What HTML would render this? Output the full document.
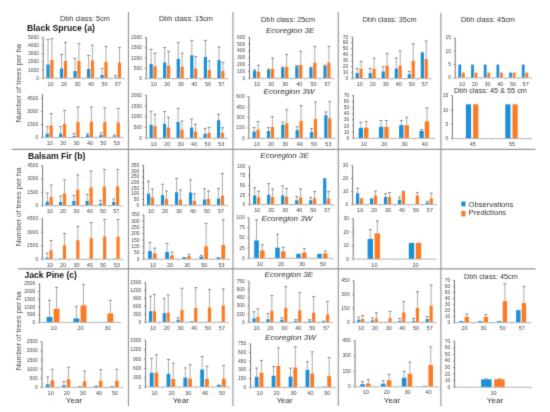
<!DOCTYPE html>
<html><head><meta charset="utf-8"><title>Figure</title>
<style>html,body{margin:0;padding:0;background:#fff;width:550px;height:412px;overflow:hidden}svg{display:block}text{font-family:"Liberation Sans",sans-serif}</style>
</head><body>
<svg width="550" height="412" viewBox="0 0 550 412" font-family="Liberation Sans, sans-serif">
<defs><filter id="soft" filterUnits="userSpaceOnUse" x="0" y="0" width="550" height="412" color-interpolation-filters="sRGB"><feConvolveMatrix order="3" kernelMatrix="1 6 1 6 36 6 1 6 1" divisor="64" edgeMode="duplicate"/></filter></defs>
<g filter="url(#soft)">
<rect x="0" y="0" width="550" height="412" fill="#fff"/>
<line x1="128.45" y1="12" x2="128.45" y2="406" stroke="#959595" stroke-width="1.15"/>
<line x1="232.95" y1="12" x2="232.95" y2="406" stroke="#959595" stroke-width="1.15"/>
<line x1="338.3" y1="12" x2="338.3" y2="406" stroke="#959595" stroke-width="1.15"/>
<line x1="440.9" y1="13" x2="440.9" y2="406" stroke="#959595" stroke-width="1.15"/>
<line x1="12" y1="149.35" x2="535.5" y2="149.35" stroke="#959595" stroke-width="1.15"/>
<line x1="18" y1="268.9" x2="535.5" y2="268.9" stroke="#959595" stroke-width="1.15"/>
<rect x="46.41" y="64.4" width="3.2" height="13.8" fill="#1b8fd8"/>
<line x1="48.01" y1="64.4" x2="48.01" y2="39.6" stroke="#9c9c9c" stroke-width="0.85"/>
<line x1="46.51" y1="39.6" x2="49.51" y2="39.6" stroke="#6e6e6e" stroke-width="0.8"/>
<rect x="50.31" y="60" width="3.2" height="18.2" fill="#fd7b22"/>
<line x1="51.91" y1="60" x2="51.91" y2="38.6" stroke="#9c9c9c" stroke-width="0.85"/>
<line x1="50.41" y1="38.6" x2="53.41" y2="38.6" stroke="#6e6e6e" stroke-width="0.8"/>
<rect x="59.92" y="68.41" width="3.2" height="9.79" fill="#1b8fd8"/>
<line x1="61.52" y1="68.41" x2="61.52" y2="54.4" stroke="#9c9c9c" stroke-width="0.85"/>
<line x1="60.02" y1="54.4" x2="63.02" y2="54.4" stroke="#6e6e6e" stroke-width="0.8"/>
<rect x="63.83" y="61" width="3.2" height="17.2" fill="#fd7b22"/>
<line x1="65.42" y1="61" x2="65.42" y2="42.6" stroke="#9c9c9c" stroke-width="0.85"/>
<line x1="63.92" y1="42.6" x2="66.92" y2="42.6" stroke="#6e6e6e" stroke-width="0.8"/>
<rect x="73.44" y="71" width="3.2" height="7.2" fill="#1b8fd8"/>
<line x1="75.04" y1="71" x2="75.04" y2="58.4" stroke="#9c9c9c" stroke-width="0.85"/>
<line x1="73.54" y1="58.4" x2="76.54" y2="58.4" stroke="#6e6e6e" stroke-width="0.8"/>
<rect x="77.34" y="61" width="3.2" height="17.2" fill="#fd7b22"/>
<line x1="78.94" y1="61" x2="78.94" y2="43.6" stroke="#9c9c9c" stroke-width="0.85"/>
<line x1="77.44" y1="43.6" x2="80.44" y2="43.6" stroke="#6e6e6e" stroke-width="0.8"/>
<rect x="86.96" y="69" width="3.2" height="9.2" fill="#1b8fd8"/>
<line x1="88.56" y1="69" x2="88.56" y2="55.4" stroke="#9c9c9c" stroke-width="0.85"/>
<line x1="87.06" y1="55.4" x2="90.06" y2="55.4" stroke="#6e6e6e" stroke-width="0.8"/>
<rect x="90.86" y="60.4" width="3.2" height="17.8" fill="#fd7b22"/>
<line x1="92.46" y1="60.4" x2="92.46" y2="45.2" stroke="#9c9c9c" stroke-width="0.85"/>
<line x1="90.96" y1="45.2" x2="93.96" y2="45.2" stroke="#6e6e6e" stroke-width="0.8"/>
<rect x="100.48" y="75" width="3.2" height="3.2" fill="#1b8fd8"/>
<line x1="102.08" y1="75" x2="102.08" y2="68.41" stroke="#9c9c9c" stroke-width="0.85"/>
<line x1="100.58" y1="68.41" x2="103.58" y2="68.41" stroke="#6e6e6e" stroke-width="0.8"/>
<rect x="104.38" y="62" width="3.2" height="16.2" fill="#fd7b22"/>
<line x1="105.97" y1="62" x2="105.97" y2="46.4" stroke="#9c9c9c" stroke-width="0.85"/>
<line x1="104.47" y1="46.4" x2="107.47" y2="46.4" stroke="#6e6e6e" stroke-width="0.8"/>
<rect x="113.99" y="77.5" width="3.2" height="0.7" fill="#1b8fd8"/>
<line x1="115.59" y1="77.5" x2="115.59" y2="75.51" stroke="#9c9c9c" stroke-width="0.85"/>
<line x1="114.09" y1="75.51" x2="117.09" y2="75.51" stroke="#6e6e6e" stroke-width="0.8"/>
<rect x="117.89" y="62.6" width="3.2" height="15.6" fill="#fd7b22"/>
<line x1="119.49" y1="62.6" x2="119.49" y2="47.6" stroke="#9c9c9c" stroke-width="0.85"/>
<line x1="117.99" y1="47.6" x2="120.99" y2="47.6" stroke="#6e6e6e" stroke-width="0.8"/>
<line x1="43.2" y1="37.4" x2="43.2" y2="78.2" stroke="#666666" stroke-width="0.9"/>
<line x1="43.2" y1="78.2" x2="124.3" y2="78.2" stroke="#b4b4b4" stroke-width="1"/>
<line x1="41.6" y1="78.2" x2="43.2" y2="78.2" stroke="#666666" stroke-width="0.7"/>
<text x="39" y="79.7" font-size="5.0" text-anchor="end" fill="#444444">0</text>
<line x1="41.6" y1="70.04" x2="43.2" y2="70.04" stroke="#666666" stroke-width="0.7"/>
<text x="39" y="71.54" font-size="5.0" text-anchor="end" fill="#444444">1000</text>
<line x1="41.6" y1="61.88" x2="43.2" y2="61.88" stroke="#666666" stroke-width="0.7"/>
<text x="39" y="63.38" font-size="5.0" text-anchor="end" fill="#444444">2000</text>
<line x1="41.6" y1="53.72" x2="43.2" y2="53.72" stroke="#666666" stroke-width="0.7"/>
<text x="39" y="55.22" font-size="5.0" text-anchor="end" fill="#444444">3000</text>
<line x1="41.6" y1="45.56" x2="43.2" y2="45.56" stroke="#666666" stroke-width="0.7"/>
<text x="39" y="47.06" font-size="5.0" text-anchor="end" fill="#444444">4000</text>
<line x1="41.6" y1="37.4" x2="43.2" y2="37.4" stroke="#666666" stroke-width="0.7"/>
<text x="39" y="38.9" font-size="5.0" text-anchor="end" fill="#444444">5000</text>
<line x1="43.2" y1="78.2" x2="43.2" y2="79.8" stroke="#b4b4b4" stroke-width="0.7"/>
<line x1="56.72" y1="78.2" x2="56.72" y2="79.8" stroke="#b4b4b4" stroke-width="0.7"/>
<line x1="70.23" y1="78.2" x2="70.23" y2="79.8" stroke="#b4b4b4" stroke-width="0.7"/>
<line x1="83.75" y1="78.2" x2="83.75" y2="79.8" stroke="#b4b4b4" stroke-width="0.7"/>
<line x1="97.27" y1="78.2" x2="97.27" y2="79.8" stroke="#b4b4b4" stroke-width="0.7"/>
<line x1="110.78" y1="78.2" x2="110.78" y2="79.8" stroke="#b4b4b4" stroke-width="0.7"/>
<line x1="124.3" y1="78.2" x2="124.3" y2="79.8" stroke="#b4b4b4" stroke-width="0.7"/>
<text x="50.56" y="85.88" font-size="5.5" text-anchor="middle" fill="#444444">10</text>
<text x="64.08" y="85.88" font-size="5.5" text-anchor="middle" fill="#444444">20</text>
<text x="77.59" y="85.88" font-size="5.5" text-anchor="middle" fill="#444444">30</text>
<text x="91.11" y="85.88" font-size="5.5" text-anchor="middle" fill="#444444">40</text>
<text x="104.62" y="85.88" font-size="5.5" text-anchor="middle" fill="#444444">50</text>
<text x="118.14" y="85.88" font-size="5.5" text-anchor="middle" fill="#444444">57</text>
<rect x="45.66" y="133.6" width="3.2" height="3.8" fill="#1b8fd8"/>
<line x1="47.26" y1="133.6" x2="47.26" y2="126.4" stroke="#9c9c9c" stroke-width="0.85"/>
<line x1="45.76" y1="126.4" x2="48.76" y2="126.4" stroke="#6e6e6e" stroke-width="0.8"/>
<rect x="49.56" y="125.6" width="3.2" height="11.8" fill="#fd7b22"/>
<line x1="51.16" y1="125.6" x2="51.16" y2="113.6" stroke="#9c9c9c" stroke-width="0.85"/>
<line x1="49.66" y1="113.6" x2="52.66" y2="113.6" stroke="#6e6e6e" stroke-width="0.8"/>
<rect x="59.07" y="133.58" width="3.2" height="3.82" fill="#1b8fd8"/>
<line x1="60.67" y1="133.58" x2="60.67" y2="126.4" stroke="#9c9c9c" stroke-width="0.85"/>
<line x1="59.17" y1="126.4" x2="62.17" y2="126.4" stroke="#6e6e6e" stroke-width="0.8"/>
<rect x="62.98" y="124" width="3.2" height="13.4" fill="#fd7b22"/>
<line x1="64.58" y1="124" x2="64.58" y2="110.41" stroke="#9c9c9c" stroke-width="0.85"/>
<line x1="63.08" y1="110.41" x2="66.08" y2="110.41" stroke="#6e6e6e" stroke-width="0.8"/>
<rect x="72.49" y="136.01" width="3.2" height="1.39" fill="#1b8fd8"/>
<line x1="74.09" y1="136.01" x2="74.09" y2="133.6" stroke="#9c9c9c" stroke-width="0.85"/>
<line x1="72.59" y1="133.6" x2="75.59" y2="133.6" stroke="#6e6e6e" stroke-width="0.8"/>
<rect x="76.39" y="122" width="3.2" height="15.4" fill="#fd7b22"/>
<line x1="77.99" y1="122" x2="77.99" y2="107" stroke="#9c9c9c" stroke-width="0.85"/>
<line x1="76.49" y1="107" x2="79.49" y2="107" stroke="#6e6e6e" stroke-width="0.8"/>
<rect x="85.91" y="135" width="3.2" height="2.4" fill="#1b8fd8"/>
<line x1="87.51" y1="135" x2="87.51" y2="133.58" stroke="#9c9c9c" stroke-width="0.85"/>
<line x1="86.01" y1="133.58" x2="89.01" y2="133.58" stroke="#6e6e6e" stroke-width="0.8"/>
<rect x="89.81" y="121.6" width="3.2" height="15.8" fill="#fd7b22"/>
<line x1="91.41" y1="121.6" x2="91.41" y2="107" stroke="#9c9c9c" stroke-width="0.85"/>
<line x1="89.91" y1="107" x2="92.91" y2="107" stroke="#6e6e6e" stroke-width="0.8"/>
<rect x="99.33" y="135" width="3.2" height="2.4" fill="#1b8fd8"/>
<line x1="100.92" y1="135" x2="100.92" y2="133" stroke="#9c9c9c" stroke-width="0.85"/>
<line x1="99.42" y1="133" x2="102.42" y2="133" stroke="#6e6e6e" stroke-width="0.8"/>
<rect x="103.22" y="122" width="3.2" height="15.4" fill="#fd7b22"/>
<line x1="104.82" y1="122" x2="104.82" y2="108" stroke="#9c9c9c" stroke-width="0.85"/>
<line x1="103.32" y1="108" x2="106.32" y2="108" stroke="#6e6e6e" stroke-width="0.8"/>
<rect x="112.74" y="136.4" width="3.2" height="1" fill="#1b8fd8"/>
<line x1="114.34" y1="136.4" x2="114.34" y2="135" stroke="#9c9c9c" stroke-width="0.85"/>
<line x1="112.84" y1="135" x2="115.84" y2="135" stroke="#6e6e6e" stroke-width="0.8"/>
<rect x="116.64" y="122.4" width="3.2" height="15" fill="#fd7b22"/>
<line x1="118.24" y1="122.4" x2="118.24" y2="108.4" stroke="#9c9c9c" stroke-width="0.85"/>
<line x1="116.74" y1="108.4" x2="119.74" y2="108.4" stroke="#6e6e6e" stroke-width="0.8"/>
<line x1="42.5" y1="94" x2="42.5" y2="137.4" stroke="#666666" stroke-width="0.9"/>
<line x1="42.5" y1="137.4" x2="123" y2="137.4" stroke="#b4b4b4" stroke-width="1"/>
<line x1="40.9" y1="137.4" x2="42.5" y2="137.4" stroke="#666666" stroke-width="0.7"/>
<text x="38.3" y="138.9" font-size="5.0" text-anchor="end" fill="#444444">0</text>
<line x1="40.9" y1="124.38" x2="42.5" y2="124.38" stroke="#666666" stroke-width="0.7"/>
<text x="38.3" y="125.88" font-size="5.0" text-anchor="end" fill="#444444">1500</text>
<line x1="40.9" y1="111.36" x2="42.5" y2="111.36" stroke="#666666" stroke-width="0.7"/>
<text x="38.3" y="112.86" font-size="5.0" text-anchor="end" fill="#444444">3000</text>
<line x1="40.9" y1="98.34" x2="42.5" y2="98.34" stroke="#666666" stroke-width="0.7"/>
<text x="38.3" y="99.84" font-size="5.0" text-anchor="end" fill="#444444">4500</text>
<line x1="42.5" y1="137.4" x2="42.5" y2="139" stroke="#b4b4b4" stroke-width="0.7"/>
<line x1="55.92" y1="137.4" x2="55.92" y2="139" stroke="#b4b4b4" stroke-width="0.7"/>
<line x1="69.33" y1="137.4" x2="69.33" y2="139" stroke="#b4b4b4" stroke-width="0.7"/>
<line x1="82.75" y1="137.4" x2="82.75" y2="139" stroke="#b4b4b4" stroke-width="0.7"/>
<line x1="96.17" y1="137.4" x2="96.17" y2="139" stroke="#b4b4b4" stroke-width="0.7"/>
<line x1="109.58" y1="137.4" x2="109.58" y2="139" stroke="#b4b4b4" stroke-width="0.7"/>
<line x1="123" y1="137.4" x2="123" y2="139" stroke="#b4b4b4" stroke-width="0.7"/>
<text x="49.81" y="145.08" font-size="5.5" text-anchor="middle" fill="#444444">10</text>
<text x="63.23" y="145.08" font-size="5.5" text-anchor="middle" fill="#444444">20</text>
<text x="76.64" y="145.08" font-size="5.5" text-anchor="middle" fill="#444444">30</text>
<text x="90.06" y="145.08" font-size="5.5" text-anchor="middle" fill="#444444">40</text>
<text x="103.47" y="145.08" font-size="5.5" text-anchor="middle" fill="#444444">50</text>
<text x="116.89" y="145.08" font-size="5.5" text-anchor="middle" fill="#444444">53</text>
<rect x="149.53" y="63.91" width="3.2" height="14.69" fill="#1b8fd8"/>
<line x1="151.13" y1="63.91" x2="151.13" y2="49.4" stroke="#9c9c9c" stroke-width="0.85"/>
<line x1="149.63" y1="49.4" x2="152.63" y2="49.4" stroke="#6e6e6e" stroke-width="0.8"/>
<rect x="153.43" y="66.21" width="3.2" height="12.39" fill="#fd7b22"/>
<line x1="155.03" y1="66.21" x2="155.03" y2="53.2" stroke="#9c9c9c" stroke-width="0.85"/>
<line x1="153.53" y1="53.2" x2="156.53" y2="53.2" stroke="#6e6e6e" stroke-width="0.8"/>
<rect x="163.1" y="62.41" width="3.2" height="16.19" fill="#1b8fd8"/>
<line x1="164.7" y1="62.41" x2="164.7" y2="47.51" stroke="#9c9c9c" stroke-width="0.85"/>
<line x1="163.2" y1="47.51" x2="166.2" y2="47.51" stroke="#6e6e6e" stroke-width="0.8"/>
<rect x="167" y="65.59" width="3.2" height="13.01" fill="#fd7b22"/>
<line x1="168.6" y1="65.59" x2="168.6" y2="51.31" stroke="#9c9c9c" stroke-width="0.85"/>
<line x1="167.1" y1="51.31" x2="170.1" y2="51.31" stroke="#6e6e6e" stroke-width="0.8"/>
<rect x="176.67" y="58.89" width="3.2" height="19.71" fill="#1b8fd8"/>
<line x1="178.27" y1="58.89" x2="178.27" y2="42.7" stroke="#9c9c9c" stroke-width="0.85"/>
<line x1="176.77" y1="42.7" x2="179.77" y2="42.7" stroke="#6e6e6e" stroke-width="0.8"/>
<rect x="180.57" y="66.8" width="3.2" height="11.8" fill="#fd7b22"/>
<line x1="182.17" y1="66.8" x2="182.17" y2="53.2" stroke="#9c9c9c" stroke-width="0.85"/>
<line x1="180.67" y1="53.2" x2="183.67" y2="53.2" stroke="#6e6e6e" stroke-width="0.8"/>
<rect x="190.23" y="55.3" width="3.2" height="23.3" fill="#1b8fd8"/>
<line x1="191.83" y1="55.3" x2="191.83" y2="40.4" stroke="#9c9c9c" stroke-width="0.85"/>
<line x1="190.33" y1="40.4" x2="193.33" y2="40.4" stroke="#6e6e6e" stroke-width="0.8"/>
<rect x="194.13" y="68.51" width="3.2" height="10.09" fill="#fd7b22"/>
<line x1="195.73" y1="68.51" x2="195.73" y2="56.59" stroke="#9c9c9c" stroke-width="0.85"/>
<line x1="194.23" y1="56.59" x2="197.23" y2="56.59" stroke="#6e6e6e" stroke-width="0.8"/>
<rect x="203.8" y="57" width="3.2" height="21.6" fill="#1b8fd8"/>
<line x1="205.4" y1="57" x2="205.4" y2="40.4" stroke="#9c9c9c" stroke-width="0.85"/>
<line x1="203.9" y1="40.4" x2="206.9" y2="40.4" stroke="#6e6e6e" stroke-width="0.8"/>
<rect x="207.7" y="70.01" width="3.2" height="8.59" fill="#fd7b22"/>
<line x1="209.3" y1="70.01" x2="209.3" y2="60.8" stroke="#9c9c9c" stroke-width="0.85"/>
<line x1="207.8" y1="60.8" x2="210.8" y2="60.8" stroke="#6e6e6e" stroke-width="0.8"/>
<rect x="217.37" y="60.1" width="3.2" height="18.49" fill="#1b8fd8"/>
<line x1="218.97" y1="60.1" x2="218.97" y2="47.1" stroke="#9c9c9c" stroke-width="0.85"/>
<line x1="217.47" y1="47.1" x2="220.47" y2="47.1" stroke="#6e6e6e" stroke-width="0.8"/>
<rect x="221.27" y="71" width="3.2" height="7.6" fill="#fd7b22"/>
<line x1="222.87" y1="71" x2="222.87" y2="62.41" stroke="#9c9c9c" stroke-width="0.85"/>
<line x1="221.37" y1="62.41" x2="224.37" y2="62.41" stroke="#6e6e6e" stroke-width="0.8"/>
<line x1="146.3" y1="37.5" x2="146.3" y2="78.6" stroke="#666666" stroke-width="0.9"/>
<line x1="146.3" y1="78.6" x2="227.7" y2="78.6" stroke="#b4b4b4" stroke-width="1"/>
<line x1="144.7" y1="78.6" x2="146.3" y2="78.6" stroke="#666666" stroke-width="0.7"/>
<text x="142.1" y="80.1" font-size="5.0" text-anchor="end" fill="#444444">0</text>
<line x1="144.7" y1="68.32" x2="146.3" y2="68.32" stroke="#666666" stroke-width="0.7"/>
<text x="142.1" y="69.82" font-size="5.0" text-anchor="end" fill="#444444">500</text>
<line x1="144.7" y1="58.05" x2="146.3" y2="58.05" stroke="#666666" stroke-width="0.7"/>
<text x="142.1" y="59.55" font-size="5.0" text-anchor="end" fill="#444444">1000</text>
<line x1="144.7" y1="47.77" x2="146.3" y2="47.77" stroke="#666666" stroke-width="0.7"/>
<text x="142.1" y="49.27" font-size="5.0" text-anchor="end" fill="#444444">1500</text>
<line x1="144.7" y1="37.5" x2="146.3" y2="37.5" stroke="#666666" stroke-width="0.7"/>
<text x="142.1" y="39" font-size="5.0" text-anchor="end" fill="#444444">2000</text>
<line x1="146.3" y1="78.6" x2="146.3" y2="80.2" stroke="#b4b4b4" stroke-width="0.7"/>
<line x1="159.87" y1="78.6" x2="159.87" y2="80.2" stroke="#b4b4b4" stroke-width="0.7"/>
<line x1="173.43" y1="78.6" x2="173.43" y2="80.2" stroke="#b4b4b4" stroke-width="0.7"/>
<line x1="187" y1="78.6" x2="187" y2="80.2" stroke="#b4b4b4" stroke-width="0.7"/>
<line x1="200.57" y1="78.6" x2="200.57" y2="80.2" stroke="#b4b4b4" stroke-width="0.7"/>
<line x1="214.13" y1="78.6" x2="214.13" y2="80.2" stroke="#b4b4b4" stroke-width="0.7"/>
<line x1="227.7" y1="78.6" x2="227.7" y2="80.2" stroke="#b4b4b4" stroke-width="0.7"/>
<text x="153.68" y="86.28" font-size="5.5" text-anchor="middle" fill="#444444">10</text>
<text x="167.25" y="86.28" font-size="5.5" text-anchor="middle" fill="#444444">20</text>
<text x="180.82" y="86.28" font-size="5.5" text-anchor="middle" fill="#444444">30</text>
<text x="194.38" y="86.28" font-size="5.5" text-anchor="middle" fill="#444444">40</text>
<text x="207.95" y="86.28" font-size="5.5" text-anchor="middle" fill="#444444">50</text>
<text x="221.52" y="86.28" font-size="5.5" text-anchor="middle" fill="#444444">57</text>
<rect x="149.5" y="124.79" width="3.2" height="13.41" fill="#1b8fd8"/>
<line x1="151.1" y1="124.79" x2="151.1" y2="111.3" stroke="#9c9c9c" stroke-width="0.85"/>
<line x1="149.6" y1="111.3" x2="152.6" y2="111.3" stroke="#6e6e6e" stroke-width="0.8"/>
<rect x="153.4" y="126.21" width="3.2" height="11.99" fill="#fd7b22"/>
<line x1="155" y1="126.21" x2="155" y2="114.3" stroke="#9c9c9c" stroke-width="0.85"/>
<line x1="153.5" y1="114.3" x2="156.5" y2="114.3" stroke="#6e6e6e" stroke-width="0.8"/>
<rect x="163" y="123.89" width="3.2" height="14.31" fill="#1b8fd8"/>
<line x1="164.6" y1="123.89" x2="164.6" y2="111.49" stroke="#9c9c9c" stroke-width="0.85"/>
<line x1="163.1" y1="111.49" x2="166.1" y2="111.49" stroke="#6e6e6e" stroke-width="0.8"/>
<rect x="166.9" y="127.5" width="3.2" height="10.7" fill="#fd7b22"/>
<line x1="168.5" y1="127.5" x2="168.5" y2="117.2" stroke="#9c9c9c" stroke-width="0.85"/>
<line x1="167" y1="117.2" x2="170" y2="117.2" stroke="#6e6e6e" stroke-width="0.8"/>
<rect x="176.5" y="122.01" width="3.2" height="16.19" fill="#1b8fd8"/>
<line x1="178.1" y1="122.01" x2="178.1" y2="108.41" stroke="#9c9c9c" stroke-width="0.85"/>
<line x1="176.6" y1="108.41" x2="179.6" y2="108.41" stroke="#6e6e6e" stroke-width="0.8"/>
<rect x="180.4" y="129.6" width="3.2" height="8.6" fill="#fd7b22"/>
<line x1="182" y1="129.6" x2="182" y2="121" stroke="#9c9c9c" stroke-width="0.85"/>
<line x1="180.5" y1="121" x2="183.5" y2="121" stroke="#6e6e6e" stroke-width="0.8"/>
<rect x="190" y="127.5" width="3.2" height="10.7" fill="#1b8fd8"/>
<line x1="191.6" y1="127.5" x2="191.6" y2="119.11" stroke="#9c9c9c" stroke-width="0.85"/>
<line x1="190.1" y1="119.11" x2="193.1" y2="119.11" stroke="#6e6e6e" stroke-width="0.8"/>
<rect x="193.9" y="131.51" width="3.2" height="6.69" fill="#fd7b22"/>
<line x1="195.5" y1="131.51" x2="195.5" y2="124.3" stroke="#9c9c9c" stroke-width="0.85"/>
<line x1="194" y1="124.3" x2="197" y2="124.3" stroke="#6e6e6e" stroke-width="0.8"/>
<rect x="203.5" y="133.8" width="3.2" height="4.4" fill="#1b8fd8"/>
<line x1="205.1" y1="133.8" x2="205.1" y2="128.5" stroke="#9c9c9c" stroke-width="0.85"/>
<line x1="203.6" y1="128.5" x2="206.6" y2="128.5" stroke="#6e6e6e" stroke-width="0.8"/>
<rect x="207.4" y="132.9" width="3.2" height="5.3" fill="#fd7b22"/>
<line x1="209" y1="132.9" x2="209" y2="127.5" stroke="#9c9c9c" stroke-width="0.85"/>
<line x1="207.5" y1="127.5" x2="210.5" y2="127.5" stroke="#6e6e6e" stroke-width="0.8"/>
<rect x="217" y="120.1" width="3.2" height="18.1" fill="#1b8fd8"/>
<line x1="218.6" y1="120.1" x2="218.6" y2="114.2" stroke="#9c9c9c" stroke-width="0.85"/>
<line x1="217.1" y1="114.2" x2="220.1" y2="114.2" stroke="#6e6e6e" stroke-width="0.8"/>
<rect x="220.9" y="132.9" width="3.2" height="5.3" fill="#fd7b22"/>
<line x1="222.5" y1="132.9" x2="222.5" y2="127.69" stroke="#9c9c9c" stroke-width="0.85"/>
<line x1="221" y1="127.69" x2="224" y2="127.69" stroke="#6e6e6e" stroke-width="0.8"/>
<line x1="146.3" y1="95.3" x2="146.3" y2="138.2" stroke="#666666" stroke-width="0.9"/>
<line x1="146.3" y1="138.2" x2="227.3" y2="138.2" stroke="#b4b4b4" stroke-width="1"/>
<line x1="144.7" y1="138.2" x2="146.3" y2="138.2" stroke="#666666" stroke-width="0.7"/>
<text x="142.1" y="139.7" font-size="5.0" text-anchor="end" fill="#444444">0</text>
<line x1="144.7" y1="127.47" x2="146.3" y2="127.47" stroke="#666666" stroke-width="0.7"/>
<text x="142.1" y="128.97" font-size="5.0" text-anchor="end" fill="#444444">500</text>
<line x1="144.7" y1="116.75" x2="146.3" y2="116.75" stroke="#666666" stroke-width="0.7"/>
<text x="142.1" y="118.25" font-size="5.0" text-anchor="end" fill="#444444">1000</text>
<line x1="144.7" y1="106.02" x2="146.3" y2="106.02" stroke="#666666" stroke-width="0.7"/>
<text x="142.1" y="107.52" font-size="5.0" text-anchor="end" fill="#444444">1500</text>
<line x1="144.7" y1="95.3" x2="146.3" y2="95.3" stroke="#666666" stroke-width="0.7"/>
<text x="142.1" y="96.8" font-size="5.0" text-anchor="end" fill="#444444">2000</text>
<line x1="146.3" y1="138.2" x2="146.3" y2="139.8" stroke="#b4b4b4" stroke-width="0.7"/>
<line x1="159.8" y1="138.2" x2="159.8" y2="139.8" stroke="#b4b4b4" stroke-width="0.7"/>
<line x1="173.3" y1="138.2" x2="173.3" y2="139.8" stroke="#b4b4b4" stroke-width="0.7"/>
<line x1="186.8" y1="138.2" x2="186.8" y2="139.8" stroke="#b4b4b4" stroke-width="0.7"/>
<line x1="200.3" y1="138.2" x2="200.3" y2="139.8" stroke="#b4b4b4" stroke-width="0.7"/>
<line x1="213.8" y1="138.2" x2="213.8" y2="139.8" stroke="#b4b4b4" stroke-width="0.7"/>
<line x1="227.3" y1="138.2" x2="227.3" y2="139.8" stroke="#b4b4b4" stroke-width="0.7"/>
<text x="153.65" y="145.88" font-size="5.5" text-anchor="middle" fill="#444444">10</text>
<text x="167.15" y="145.88" font-size="5.5" text-anchor="middle" fill="#444444">20</text>
<text x="180.65" y="145.88" font-size="5.5" text-anchor="middle" fill="#444444">30</text>
<text x="194.15" y="145.88" font-size="5.5" text-anchor="middle" fill="#444444">40</text>
<text x="207.65" y="145.88" font-size="5.5" text-anchor="middle" fill="#444444">50</text>
<text x="221.15" y="145.88" font-size="5.5" text-anchor="middle" fill="#444444">53</text>
<rect x="252.99" y="70.51" width="3.2" height="7.79" fill="#1b8fd8"/>
<line x1="254.59" y1="70.51" x2="254.59" y2="69.76" stroke="#9c9c9c" stroke-width="0.85"/>
<line x1="253.09" y1="69.76" x2="256.09" y2="69.76" stroke="#6e6e6e" stroke-width="0.8"/>
<rect x="256.89" y="71.6" width="3.2" height="6.7" fill="#fd7b22"/>
<line x1="258.49" y1="71.6" x2="258.49" y2="65.32" stroke="#9c9c9c" stroke-width="0.85"/>
<line x1="256.99" y1="65.32" x2="259.99" y2="65.32" stroke="#6e6e6e" stroke-width="0.8"/>
<rect x="267.07" y="69.69" width="3.2" height="8.61" fill="#1b8fd8"/>
<line x1="268.68" y1="69.69" x2="268.68" y2="69.14" stroke="#9c9c9c" stroke-width="0.85"/>
<line x1="267.18" y1="69.14" x2="270.18" y2="69.14" stroke="#6e6e6e" stroke-width="0.8"/>
<rect x="270.98" y="68.8" width="3.2" height="9.5" fill="#fd7b22"/>
<line x1="272.58" y1="68.8" x2="272.58" y2="58.07" stroke="#9c9c9c" stroke-width="0.85"/>
<line x1="271.08" y1="58.07" x2="274.08" y2="58.07" stroke="#6e6e6e" stroke-width="0.8"/>
<rect x="281.16" y="67.57" width="3.2" height="10.73" fill="#1b8fd8"/>
<line x1="282.76" y1="67.57" x2="282.76" y2="67.03" stroke="#9c9c9c" stroke-width="0.85"/>
<line x1="281.26" y1="67.03" x2="284.26" y2="67.03" stroke="#6e6e6e" stroke-width="0.8"/>
<rect x="285.06" y="66.89" width="3.2" height="11.41" fill="#fd7b22"/>
<line x1="286.66" y1="66.89" x2="286.66" y2="54.38" stroke="#9c9c9c" stroke-width="0.85"/>
<line x1="285.16" y1="54.38" x2="288.16" y2="54.38" stroke="#6e6e6e" stroke-width="0.8"/>
<rect x="295.24" y="66.27" width="3.2" height="12.03" fill="#1b8fd8"/>
<line x1="296.84" y1="66.27" x2="296.84" y2="65.73" stroke="#9c9c9c" stroke-width="0.85"/>
<line x1="295.34" y1="65.73" x2="298.34" y2="65.73" stroke="#6e6e6e" stroke-width="0.8"/>
<rect x="299.14" y="64.91" width="3.2" height="13.39" fill="#fd7b22"/>
<line x1="300.74" y1="64.91" x2="300.74" y2="51.38" stroke="#9c9c9c" stroke-width="0.85"/>
<line x1="299.24" y1="51.38" x2="302.24" y2="51.38" stroke="#6e6e6e" stroke-width="0.8"/>
<rect x="309.32" y="67.78" width="3.2" height="10.52" fill="#1b8fd8"/>
<line x1="310.93" y1="67.78" x2="310.93" y2="67.23" stroke="#9c9c9c" stroke-width="0.85"/>
<line x1="309.43" y1="67.23" x2="312.43" y2="67.23" stroke="#6e6e6e" stroke-width="0.8"/>
<rect x="313.23" y="62.52" width="3.2" height="15.78" fill="#fd7b22"/>
<line x1="314.83" y1="62.52" x2="314.83" y2="46.59" stroke="#9c9c9c" stroke-width="0.85"/>
<line x1="313.33" y1="46.59" x2="316.33" y2="46.59" stroke="#6e6e6e" stroke-width="0.8"/>
<rect x="323.41" y="65.86" width="3.2" height="12.44" fill="#1b8fd8"/>
<line x1="325.01" y1="65.86" x2="325.01" y2="65.18" stroke="#9c9c9c" stroke-width="0.85"/>
<line x1="323.51" y1="65.18" x2="326.51" y2="65.18" stroke="#6e6e6e" stroke-width="0.8"/>
<rect x="327.31" y="62.52" width="3.2" height="15.78" fill="#fd7b22"/>
<line x1="328.91" y1="62.52" x2="328.91" y2="46.59" stroke="#9c9c9c" stroke-width="0.85"/>
<line x1="327.41" y1="46.59" x2="330.41" y2="46.59" stroke="#6e6e6e" stroke-width="0.8"/>
<line x1="249.5" y1="37.3" x2="249.5" y2="78.3" stroke="#666666" stroke-width="0.9"/>
<line x1="249.5" y1="78.3" x2="334" y2="78.3" stroke="#b4b4b4" stroke-width="1"/>
<line x1="247.9" y1="78.3" x2="249.5" y2="78.3" stroke="#666666" stroke-width="0.7"/>
<text x="245.3" y="79.8" font-size="5.0" text-anchor="end" fill="#444444">0</text>
<line x1="247.9" y1="71.47" x2="249.5" y2="71.47" stroke="#666666" stroke-width="0.7"/>
<text x="245.3" y="72.97" font-size="5.0" text-anchor="end" fill="#444444">100</text>
<line x1="247.9" y1="64.63" x2="249.5" y2="64.63" stroke="#666666" stroke-width="0.7"/>
<text x="245.3" y="66.13" font-size="5.0" text-anchor="end" fill="#444444">200</text>
<line x1="247.9" y1="57.8" x2="249.5" y2="57.8" stroke="#666666" stroke-width="0.7"/>
<text x="245.3" y="59.3" font-size="5.0" text-anchor="end" fill="#444444">300</text>
<line x1="247.9" y1="50.97" x2="249.5" y2="50.97" stroke="#666666" stroke-width="0.7"/>
<text x="245.3" y="52.47" font-size="5.0" text-anchor="end" fill="#444444">400</text>
<line x1="247.9" y1="44.13" x2="249.5" y2="44.13" stroke="#666666" stroke-width="0.7"/>
<text x="245.3" y="45.63" font-size="5.0" text-anchor="end" fill="#444444">500</text>
<line x1="247.9" y1="37.3" x2="249.5" y2="37.3" stroke="#666666" stroke-width="0.7"/>
<text x="245.3" y="38.8" font-size="5.0" text-anchor="end" fill="#444444">600</text>
<line x1="249.5" y1="78.3" x2="249.5" y2="79.9" stroke="#b4b4b4" stroke-width="0.7"/>
<line x1="263.58" y1="78.3" x2="263.58" y2="79.9" stroke="#b4b4b4" stroke-width="0.7"/>
<line x1="277.67" y1="78.3" x2="277.67" y2="79.9" stroke="#b4b4b4" stroke-width="0.7"/>
<line x1="291.75" y1="78.3" x2="291.75" y2="79.9" stroke="#b4b4b4" stroke-width="0.7"/>
<line x1="305.83" y1="78.3" x2="305.83" y2="79.9" stroke="#b4b4b4" stroke-width="0.7"/>
<line x1="319.92" y1="78.3" x2="319.92" y2="79.9" stroke="#b4b4b4" stroke-width="0.7"/>
<line x1="334" y1="78.3" x2="334" y2="79.9" stroke="#b4b4b4" stroke-width="0.7"/>
<text x="257.14" y="85.98" font-size="5.5" text-anchor="middle" fill="#444444">10</text>
<text x="271.23" y="85.98" font-size="5.5" text-anchor="middle" fill="#444444">20</text>
<text x="285.31" y="85.98" font-size="5.5" text-anchor="middle" fill="#444444">30</text>
<text x="299.39" y="85.98" font-size="5.5" text-anchor="middle" fill="#444444">40</text>
<text x="313.48" y="85.98" font-size="5.5" text-anchor="middle" fill="#444444">50</text>
<text x="327.56" y="85.98" font-size="5.5" text-anchor="middle" fill="#444444">57</text>
<rect x="252.53" y="131.56" width="3.2" height="6.74" fill="#1b8fd8"/>
<line x1="254.12" y1="131.56" x2="254.12" y2="127.6" stroke="#9c9c9c" stroke-width="0.85"/>
<line x1="252.62" y1="127.6" x2="255.62" y2="127.6" stroke="#6e6e6e" stroke-width="0.8"/>
<rect x="256.43" y="129.68" width="3.2" height="8.62" fill="#fd7b22"/>
<line x1="258.03" y1="129.68" x2="258.03" y2="121.48" stroke="#9c9c9c" stroke-width="0.85"/>
<line x1="256.53" y1="121.48" x2="259.53" y2="121.48" stroke="#6e6e6e" stroke-width="0.8"/>
<rect x="266.88" y="131.07" width="3.2" height="7.23" fill="#1b8fd8"/>
<line x1="268.48" y1="131.07" x2="268.48" y2="127.6" stroke="#9c9c9c" stroke-width="0.85"/>
<line x1="266.98" y1="127.6" x2="269.98" y2="127.6" stroke="#6e6e6e" stroke-width="0.8"/>
<rect x="270.78" y="126.9" width="3.2" height="11.4" fill="#fd7b22"/>
<line x1="272.38" y1="126.9" x2="272.38" y2="116.62" stroke="#9c9c9c" stroke-width="0.85"/>
<line x1="270.88" y1="116.62" x2="273.88" y2="116.62" stroke="#6e6e6e" stroke-width="0.8"/>
<rect x="281.22" y="124.75" width="3.2" height="13.55" fill="#1b8fd8"/>
<line x1="282.82" y1="124.75" x2="282.82" y2="122.04" stroke="#9c9c9c" stroke-width="0.85"/>
<line x1="281.32" y1="122.04" x2="284.32" y2="122.04" stroke="#6e6e6e" stroke-width="0.8"/>
<rect x="285.12" y="123.36" width="3.2" height="14.94" fill="#fd7b22"/>
<line x1="286.73" y1="123.36" x2="286.73" y2="109.67" stroke="#9c9c9c" stroke-width="0.85"/>
<line x1="285.23" y1="109.67" x2="288.23" y2="109.67" stroke="#6e6e6e" stroke-width="0.8"/>
<rect x="295.57" y="130.1" width="3.2" height="8.2" fill="#1b8fd8"/>
<line x1="297.18" y1="130.1" x2="297.18" y2="126.69" stroke="#9c9c9c" stroke-width="0.85"/>
<line x1="295.68" y1="126.69" x2="298.68" y2="126.69" stroke="#6e6e6e" stroke-width="0.8"/>
<rect x="299.48" y="120.86" width="3.2" height="17.44" fill="#fd7b22"/>
<line x1="301.08" y1="120.86" x2="301.08" y2="105.63" stroke="#9c9c9c" stroke-width="0.85"/>
<line x1="299.58" y1="105.63" x2="302.58" y2="105.63" stroke="#6e6e6e" stroke-width="0.8"/>
<rect x="309.93" y="131.98" width="3.2" height="6.32" fill="#1b8fd8"/>
<line x1="311.53" y1="131.98" x2="311.53" y2="128.57" stroke="#9c9c9c" stroke-width="0.85"/>
<line x1="310.03" y1="128.57" x2="313.03" y2="128.57" stroke="#6e6e6e" stroke-width="0.8"/>
<rect x="313.83" y="118.98" width="3.2" height="19.32" fill="#fd7b22"/>
<line x1="315.43" y1="118.98" x2="315.43" y2="101.95" stroke="#9c9c9c" stroke-width="0.85"/>
<line x1="313.93" y1="101.95" x2="316.93" y2="101.95" stroke="#6e6e6e" stroke-width="0.8"/>
<rect x="324.27" y="115.16" width="3.2" height="23.14" fill="#1b8fd8"/>
<line x1="325.88" y1="115.16" x2="325.88" y2="111.96" stroke="#9c9c9c" stroke-width="0.85"/>
<line x1="324.38" y1="111.96" x2="327.38" y2="111.96" stroke="#6e6e6e" stroke-width="0.8"/>
<rect x="328.18" y="118.28" width="3.2" height="20.02" fill="#fd7b22"/>
<line x1="329.78" y1="118.28" x2="329.78" y2="101.4" stroke="#9c9c9c" stroke-width="0.85"/>
<line x1="328.28" y1="101.4" x2="331.28" y2="101.4" stroke="#6e6e6e" stroke-width="0.8"/>
<line x1="248.9" y1="96.6" x2="248.9" y2="138.3" stroke="#666666" stroke-width="0.9"/>
<line x1="248.9" y1="138.3" x2="335" y2="138.3" stroke="#b4b4b4" stroke-width="1"/>
<line x1="247.3" y1="138.3" x2="248.9" y2="138.3" stroke="#666666" stroke-width="0.7"/>
<text x="244.7" y="139.8" font-size="5.0" text-anchor="end" fill="#444444">0</text>
<line x1="247.3" y1="127.88" x2="248.9" y2="127.88" stroke="#666666" stroke-width="0.7"/>
<text x="244.7" y="129.38" font-size="5.0" text-anchor="end" fill="#444444">150</text>
<line x1="247.3" y1="117.45" x2="248.9" y2="117.45" stroke="#666666" stroke-width="0.7"/>
<text x="244.7" y="118.95" font-size="5.0" text-anchor="end" fill="#444444">300</text>
<line x1="247.3" y1="107.02" x2="248.9" y2="107.02" stroke="#666666" stroke-width="0.7"/>
<text x="244.7" y="108.52" font-size="5.0" text-anchor="end" fill="#444444">450</text>
<line x1="247.3" y1="96.6" x2="248.9" y2="96.6" stroke="#666666" stroke-width="0.7"/>
<text x="244.7" y="98.1" font-size="5.0" text-anchor="end" fill="#444444">600</text>
<line x1="248.9" y1="138.3" x2="248.9" y2="139.9" stroke="#b4b4b4" stroke-width="0.7"/>
<line x1="263.25" y1="138.3" x2="263.25" y2="139.9" stroke="#b4b4b4" stroke-width="0.7"/>
<line x1="277.6" y1="138.3" x2="277.6" y2="139.9" stroke="#b4b4b4" stroke-width="0.7"/>
<line x1="291.95" y1="138.3" x2="291.95" y2="139.9" stroke="#b4b4b4" stroke-width="0.7"/>
<line x1="306.3" y1="138.3" x2="306.3" y2="139.9" stroke="#b4b4b4" stroke-width="0.7"/>
<line x1="320.65" y1="138.3" x2="320.65" y2="139.9" stroke="#b4b4b4" stroke-width="0.7"/>
<line x1="335" y1="138.3" x2="335" y2="139.9" stroke="#b4b4b4" stroke-width="0.7"/>
<text x="256.68" y="145.98" font-size="5.5" text-anchor="middle" fill="#444444">10</text>
<text x="271.03" y="145.98" font-size="5.5" text-anchor="middle" fill="#444444">20</text>
<text x="285.38" y="145.98" font-size="5.5" text-anchor="middle" fill="#444444">30</text>
<text x="299.73" y="145.98" font-size="5.5" text-anchor="middle" fill="#444444">40</text>
<text x="314.08" y="145.98" font-size="5.5" text-anchor="middle" fill="#444444">50</text>
<text x="328.43" y="145.98" font-size="5.5" text-anchor="middle" fill="#444444">53</text>
<rect x="355.57" y="73.07" width="3.2" height="5.53" fill="#1b8fd8"/>
<line x1="357.17" y1="73.07" x2="357.17" y2="68.5" stroke="#9c9c9c" stroke-width="0.85"/>
<line x1="355.67" y1="68.5" x2="358.67" y2="68.5" stroke="#6e6e6e" stroke-width="0.8"/>
<rect x="359.47" y="68.68" width="3.2" height="9.92" fill="#fd7b22"/>
<line x1="361.07" y1="68.68" x2="361.07" y2="61.37" stroke="#9c9c9c" stroke-width="0.85"/>
<line x1="359.57" y1="61.37" x2="362.57" y2="61.37" stroke="#6e6e6e" stroke-width="0.8"/>
<rect x="368.6" y="73.07" width="3.2" height="5.53" fill="#1b8fd8"/>
<line x1="370.2" y1="73.07" x2="370.2" y2="68.5" stroke="#9c9c9c" stroke-width="0.85"/>
<line x1="368.7" y1="68.5" x2="371.7" y2="68.5" stroke="#6e6e6e" stroke-width="0.8"/>
<rect x="372.5" y="68.68" width="3.2" height="9.92" fill="#fd7b22"/>
<line x1="374.1" y1="68.68" x2="374.1" y2="58.22" stroke="#9c9c9c" stroke-width="0.85"/>
<line x1="372.6" y1="58.22" x2="375.6" y2="58.22" stroke="#6e6e6e" stroke-width="0.8"/>
<rect x="381.63" y="71.47" width="3.2" height="7.13" fill="#1b8fd8"/>
<line x1="383.23" y1="71.47" x2="383.23" y2="66.77" stroke="#9c9c9c" stroke-width="0.85"/>
<line x1="381.73" y1="66.77" x2="384.73" y2="66.77" stroke="#6e6e6e" stroke-width="0.8"/>
<rect x="385.53" y="65.59" width="3.2" height="13.01" fill="#fd7b22"/>
<line x1="387.13" y1="65.59" x2="387.13" y2="53.4" stroke="#9c9c9c" stroke-width="0.85"/>
<line x1="385.63" y1="53.4" x2="388.63" y2="53.4" stroke="#6e6e6e" stroke-width="0.8"/>
<rect x="394.67" y="68.5" width="3.2" height="10.1" fill="#1b8fd8"/>
<line x1="396.27" y1="68.5" x2="396.27" y2="57.98" stroke="#9c9c9c" stroke-width="0.85"/>
<line x1="394.77" y1="57.98" x2="397.77" y2="57.98" stroke="#6e6e6e" stroke-width="0.8"/>
<rect x="398.57" y="65.59" width="3.2" height="13.01" fill="#fd7b22"/>
<line x1="400.17" y1="65.59" x2="400.17" y2="50.91" stroke="#9c9c9c" stroke-width="0.85"/>
<line x1="398.67" y1="50.91" x2="401.67" y2="50.91" stroke="#6e6e6e" stroke-width="0.8"/>
<rect x="407.7" y="74.2" width="3.2" height="4.4" fill="#1b8fd8"/>
<line x1="409.3" y1="74.2" x2="409.3" y2="71.47" stroke="#9c9c9c" stroke-width="0.85"/>
<line x1="407.8" y1="71.47" x2="410.8" y2="71.47" stroke="#6e6e6e" stroke-width="0.8"/>
<rect x="411.6" y="60.77" width="3.2" height="17.83" fill="#fd7b22"/>
<line x1="413.2" y1="60.77" x2="413.2" y2="43.77" stroke="#9c9c9c" stroke-width="0.85"/>
<line x1="411.7" y1="43.77" x2="414.7" y2="43.77" stroke="#6e6e6e" stroke-width="0.8"/>
<rect x="420.73" y="52.93" width="3.2" height="25.67" fill="#1b8fd8"/>
<line x1="422.33" y1="52.93" x2="422.33" y2="52.33" stroke="#9c9c9c" stroke-width="0.85"/>
<line x1="420.83" y1="52.33" x2="423.83" y2="52.33" stroke="#6e6e6e" stroke-width="0.8"/>
<rect x="424.63" y="58.93" width="3.2" height="19.67" fill="#fd7b22"/>
<line x1="426.23" y1="58.93" x2="426.23" y2="40.98" stroke="#9c9c9c" stroke-width="0.85"/>
<line x1="424.73" y1="40.98" x2="427.73" y2="40.98" stroke="#6e6e6e" stroke-width="0.8"/>
<line x1="352.6" y1="37" x2="352.6" y2="78.6" stroke="#666666" stroke-width="0.9"/>
<line x1="352.6" y1="78.6" x2="430.8" y2="78.6" stroke="#b4b4b4" stroke-width="1"/>
<line x1="351" y1="78.6" x2="352.6" y2="78.6" stroke="#666666" stroke-width="0.7"/>
<text x="348.4" y="80.1" font-size="5.0" text-anchor="end" fill="#444444">0</text>
<line x1="351" y1="72.66" x2="352.6" y2="72.66" stroke="#666666" stroke-width="0.7"/>
<text x="348.4" y="74.16" font-size="5.0" text-anchor="end" fill="#444444">10</text>
<line x1="351" y1="66.71" x2="352.6" y2="66.71" stroke="#666666" stroke-width="0.7"/>
<text x="348.4" y="68.21" font-size="5.0" text-anchor="end" fill="#444444">20</text>
<line x1="351" y1="60.77" x2="352.6" y2="60.77" stroke="#666666" stroke-width="0.7"/>
<text x="348.4" y="62.27" font-size="5.0" text-anchor="end" fill="#444444">30</text>
<line x1="351" y1="54.83" x2="352.6" y2="54.83" stroke="#666666" stroke-width="0.7"/>
<text x="348.4" y="56.33" font-size="5.0" text-anchor="end" fill="#444444">40</text>
<line x1="351" y1="48.89" x2="352.6" y2="48.89" stroke="#666666" stroke-width="0.7"/>
<text x="348.4" y="50.39" font-size="5.0" text-anchor="end" fill="#444444">50</text>
<line x1="351" y1="42.94" x2="352.6" y2="42.94" stroke="#666666" stroke-width="0.7"/>
<text x="348.4" y="44.44" font-size="5.0" text-anchor="end" fill="#444444">60</text>
<line x1="351" y1="37" x2="352.6" y2="37" stroke="#666666" stroke-width="0.7"/>
<text x="348.4" y="38.5" font-size="5.0" text-anchor="end" fill="#444444">70</text>
<line x1="352.6" y1="78.6" x2="352.6" y2="80.2" stroke="#b4b4b4" stroke-width="0.7"/>
<line x1="365.63" y1="78.6" x2="365.63" y2="80.2" stroke="#b4b4b4" stroke-width="0.7"/>
<line x1="378.67" y1="78.6" x2="378.67" y2="80.2" stroke="#b4b4b4" stroke-width="0.7"/>
<line x1="391.7" y1="78.6" x2="391.7" y2="80.2" stroke="#b4b4b4" stroke-width="0.7"/>
<line x1="404.73" y1="78.6" x2="404.73" y2="80.2" stroke="#b4b4b4" stroke-width="0.7"/>
<line x1="417.77" y1="78.6" x2="417.77" y2="80.2" stroke="#b4b4b4" stroke-width="0.7"/>
<line x1="430.8" y1="78.6" x2="430.8" y2="80.2" stroke="#b4b4b4" stroke-width="0.7"/>
<text x="359.72" y="86.28" font-size="5.5" text-anchor="middle" fill="#444444">10</text>
<text x="372.75" y="86.28" font-size="5.5" text-anchor="middle" fill="#444444">20</text>
<text x="385.78" y="86.28" font-size="5.5" text-anchor="middle" fill="#444444">30</text>
<text x="398.82" y="86.28" font-size="5.5" text-anchor="middle" fill="#444444">40</text>
<text x="411.85" y="86.28" font-size="5.5" text-anchor="middle" fill="#444444">50</text>
<text x="424.88" y="86.28" font-size="5.5" text-anchor="middle" fill="#444444">57</text>
<rect x="358.62" y="127.92" width="4.4" height="10.38" fill="#1b8fd8"/>
<line x1="360.82" y1="127.92" x2="360.82" y2="122.27" stroke="#9c9c9c" stroke-width="0.85"/>
<line x1="359.32" y1="122.27" x2="362.32" y2="122.27" stroke="#6e6e6e" stroke-width="0.8"/>
<rect x="364.02" y="127.61" width="4.4" height="10.69" fill="#fd7b22"/>
<line x1="366.22" y1="127.61" x2="366.22" y2="121.53" stroke="#9c9c9c" stroke-width="0.85"/>
<line x1="364.72" y1="121.53" x2="367.72" y2="121.53" stroke="#6e6e6e" stroke-width="0.8"/>
<rect x="378.88" y="126.75" width="4.4" height="11.55" fill="#1b8fd8"/>
<line x1="381.07" y1="126.75" x2="381.07" y2="120.49" stroke="#9c9c9c" stroke-width="0.85"/>
<line x1="379.57" y1="120.49" x2="382.57" y2="120.49" stroke="#6e6e6e" stroke-width="0.8"/>
<rect x="384.27" y="126.94" width="4.4" height="11.36" fill="#fd7b22"/>
<line x1="386.47" y1="126.94" x2="386.47" y2="120.49" stroke="#9c9c9c" stroke-width="0.85"/>
<line x1="384.97" y1="120.49" x2="387.97" y2="120.49" stroke="#6e6e6e" stroke-width="0.8"/>
<rect x="399.12" y="125.15" width="4.4" height="13.15" fill="#1b8fd8"/>
<line x1="401.32" y1="125.15" x2="401.32" y2="120.49" stroke="#9c9c9c" stroke-width="0.85"/>
<line x1="399.82" y1="120.49" x2="402.82" y2="120.49" stroke="#6e6e6e" stroke-width="0.8"/>
<rect x="404.52" y="125.15" width="4.4" height="13.15" fill="#fd7b22"/>
<line x1="406.72" y1="125.15" x2="406.72" y2="117.17" stroke="#9c9c9c" stroke-width="0.85"/>
<line x1="405.22" y1="117.17" x2="408.22" y2="117.17" stroke="#6e6e6e" stroke-width="0.8"/>
<rect x="419.38" y="130.93" width="4.4" height="7.37" fill="#1b8fd8"/>
<line x1="421.57" y1="130.93" x2="421.57" y2="129.52" stroke="#9c9c9c" stroke-width="0.85"/>
<line x1="420.07" y1="129.52" x2="423.07" y2="129.52" stroke="#6e6e6e" stroke-width="0.8"/>
<rect x="424.77" y="121.35" width="4.4" height="16.95" fill="#fd7b22"/>
<line x1="426.97" y1="121.35" x2="426.97" y2="107.95" stroke="#9c9c9c" stroke-width="0.85"/>
<line x1="425.47" y1="107.95" x2="428.47" y2="107.95" stroke="#6e6e6e" stroke-width="0.8"/>
<line x1="353.4" y1="95.3" x2="353.4" y2="138.3" stroke="#666666" stroke-width="0.9"/>
<line x1="353.4" y1="138.3" x2="434.4" y2="138.3" stroke="#b4b4b4" stroke-width="1"/>
<line x1="351.8" y1="138.3" x2="353.4" y2="138.3" stroke="#666666" stroke-width="0.7"/>
<text x="349.2" y="139.8" font-size="5.0" text-anchor="end" fill="#444444">0</text>
<line x1="351.8" y1="132.16" x2="353.4" y2="132.16" stroke="#666666" stroke-width="0.7"/>
<text x="349.2" y="133.66" font-size="5.0" text-anchor="end" fill="#444444">10</text>
<line x1="351.8" y1="126.01" x2="353.4" y2="126.01" stroke="#666666" stroke-width="0.7"/>
<text x="349.2" y="127.51" font-size="5.0" text-anchor="end" fill="#444444">20</text>
<line x1="351.8" y1="119.87" x2="353.4" y2="119.87" stroke="#666666" stroke-width="0.7"/>
<text x="349.2" y="121.37" font-size="5.0" text-anchor="end" fill="#444444">30</text>
<line x1="351.8" y1="113.73" x2="353.4" y2="113.73" stroke="#666666" stroke-width="0.7"/>
<text x="349.2" y="115.23" font-size="5.0" text-anchor="end" fill="#444444">40</text>
<line x1="351.8" y1="107.59" x2="353.4" y2="107.59" stroke="#666666" stroke-width="0.7"/>
<text x="349.2" y="109.09" font-size="5.0" text-anchor="end" fill="#444444">50</text>
<line x1="351.8" y1="101.44" x2="353.4" y2="101.44" stroke="#666666" stroke-width="0.7"/>
<text x="349.2" y="102.94" font-size="5.0" text-anchor="end" fill="#444444">60</text>
<line x1="351.8" y1="95.3" x2="353.4" y2="95.3" stroke="#666666" stroke-width="0.7"/>
<text x="349.2" y="96.8" font-size="5.0" text-anchor="end" fill="#444444">70</text>
<line x1="353.4" y1="138.3" x2="353.4" y2="139.9" stroke="#b4b4b4" stroke-width="0.7"/>
<line x1="373.65" y1="138.3" x2="373.65" y2="139.9" stroke="#b4b4b4" stroke-width="0.7"/>
<line x1="393.9" y1="138.3" x2="393.9" y2="139.9" stroke="#b4b4b4" stroke-width="0.7"/>
<line x1="414.15" y1="138.3" x2="414.15" y2="139.9" stroke="#b4b4b4" stroke-width="0.7"/>
<line x1="434.4" y1="138.3" x2="434.4" y2="139.9" stroke="#b4b4b4" stroke-width="0.7"/>
<text x="364.12" y="145.98" font-size="5.5" text-anchor="middle" fill="#444444">10</text>
<text x="384.38" y="145.98" font-size="5.5" text-anchor="middle" fill="#444444">20</text>
<text x="404.62" y="145.98" font-size="5.5" text-anchor="middle" fill="#444444">30</text>
<text x="424.88" y="145.98" font-size="5.5" text-anchor="middle" fill="#444444">40</text>
<rect x="458.35" y="64.57" width="2.8" height="13.33" fill="#1b8fd8"/>
<rect x="461.95" y="72.57" width="2.8" height="5.33" fill="#fd7b22"/>
<rect x="471.05" y="64.57" width="2.8" height="13.33" fill="#1b8fd8"/>
<rect x="474.65" y="72.57" width="2.8" height="5.33" fill="#fd7b22"/>
<rect x="483.75" y="64.57" width="2.8" height="13.33" fill="#1b8fd8"/>
<rect x="487.35" y="72.57" width="2.8" height="5.33" fill="#fd7b22"/>
<rect x="496.45" y="64.57" width="2.8" height="13.33" fill="#1b8fd8"/>
<rect x="500.05" y="72.57" width="2.8" height="5.33" fill="#fd7b22"/>
<rect x="509.15" y="72.57" width="2.8" height="5.33" fill="#1b8fd8"/>
<rect x="512.75" y="72.57" width="2.8" height="5.33" fill="#fd7b22"/>
<rect x="521.85" y="64.57" width="2.8" height="13.33" fill="#1b8fd8"/>
<rect x="525.45" y="72.57" width="2.8" height="5.33" fill="#fd7b22"/>
<line x1="455.2" y1="37.9" x2="455.2" y2="77.9" stroke="#666666" stroke-width="0.9"/>
<line x1="455.2" y1="77.9" x2="531.4" y2="77.9" stroke="#b4b4b4" stroke-width="1"/>
<line x1="453.6" y1="77.9" x2="455.2" y2="77.9" stroke="#666666" stroke-width="0.7"/>
<text x="451" y="79.4" font-size="5.0" text-anchor="end" fill="#444444">0</text>
<line x1="453.6" y1="64.57" x2="455.2" y2="64.57" stroke="#666666" stroke-width="0.7"/>
<text x="451" y="66.07" font-size="5.0" text-anchor="end" fill="#444444">5</text>
<line x1="453.6" y1="51.23" x2="455.2" y2="51.23" stroke="#666666" stroke-width="0.7"/>
<text x="451" y="52.73" font-size="5.0" text-anchor="end" fill="#444444">10</text>
<line x1="453.6" y1="37.9" x2="455.2" y2="37.9" stroke="#666666" stroke-width="0.7"/>
<text x="451" y="39.4" font-size="5.0" text-anchor="end" fill="#444444">15</text>
<line x1="455.2" y1="77.9" x2="455.2" y2="79.5" stroke="#b4b4b4" stroke-width="0.7"/>
<line x1="467.9" y1="77.9" x2="467.9" y2="79.5" stroke="#b4b4b4" stroke-width="0.7"/>
<line x1="480.6" y1="77.9" x2="480.6" y2="79.5" stroke="#b4b4b4" stroke-width="0.7"/>
<line x1="493.3" y1="77.9" x2="493.3" y2="79.5" stroke="#b4b4b4" stroke-width="0.7"/>
<line x1="506" y1="77.9" x2="506" y2="79.5" stroke="#b4b4b4" stroke-width="0.7"/>
<line x1="518.7" y1="77.9" x2="518.7" y2="79.5" stroke="#b4b4b4" stroke-width="0.7"/>
<line x1="531.4" y1="77.9" x2="531.4" y2="79.5" stroke="#b4b4b4" stroke-width="0.7"/>
<text x="462.15" y="85.58" font-size="5.5" text-anchor="middle" fill="#444444">10</text>
<text x="474.85" y="85.58" font-size="5.5" text-anchor="middle" fill="#444444">20</text>
<text x="487.55" y="85.58" font-size="5.5" text-anchor="middle" fill="#444444">30</text>
<text x="500.25" y="85.58" font-size="5.5" text-anchor="middle" fill="#444444">40</text>
<text x="512.95" y="85.58" font-size="5.5" text-anchor="middle" fill="#444444">50</text>
<text x="525.65" y="85.58" font-size="5.5" text-anchor="middle" fill="#444444">57</text>
<rect x="465.9" y="104.28" width="5.2" height="34.32" fill="#1b8fd8"/>
<rect x="473.1" y="104.28" width="5.2" height="34.32" fill="#fd7b22"/>
<rect x="505.3" y="104.28" width="5.2" height="34.32" fill="#1b8fd8"/>
<rect x="512.5" y="104.28" width="5.2" height="34.32" fill="#fd7b22"/>
<line x1="452.4" y1="95.7" x2="452.4" y2="138.6" stroke="#666666" stroke-width="0.9"/>
<line x1="452.4" y1="138.6" x2="531.2" y2="138.6" stroke="#b4b4b4" stroke-width="1"/>
<line x1="450.8" y1="138.6" x2="452.4" y2="138.6" stroke="#666666" stroke-width="0.7"/>
<text x="448.2" y="140.1" font-size="5.0" text-anchor="end" fill="#444444">0</text>
<line x1="450.8" y1="124.3" x2="452.4" y2="124.3" stroke="#666666" stroke-width="0.7"/>
<text x="448.2" y="125.8" font-size="5.0" text-anchor="end" fill="#444444">5</text>
<line x1="450.8" y1="110" x2="452.4" y2="110" stroke="#666666" stroke-width="0.7"/>
<text x="448.2" y="111.5" font-size="5.0" text-anchor="end" fill="#444444">10</text>
<line x1="450.8" y1="95.7" x2="452.4" y2="95.7" stroke="#666666" stroke-width="0.7"/>
<text x="448.2" y="97.2" font-size="5.0" text-anchor="end" fill="#444444">15</text>
<line x1="452.4" y1="138.6" x2="452.4" y2="140.2" stroke="#b4b4b4" stroke-width="0.7"/>
<line x1="491.8" y1="138.6" x2="491.8" y2="140.2" stroke="#b4b4b4" stroke-width="0.7"/>
<line x1="531.2" y1="138.6" x2="531.2" y2="140.2" stroke="#b4b4b4" stroke-width="0.7"/>
<text x="472.7" y="146.28" font-size="5.5" text-anchor="middle" fill="#444444">45</text>
<text x="512.1" y="146.28" font-size="5.5" text-anchor="middle" fill="#444444">55</text>
<rect x="45.69" y="201.6" width="3.2" height="4" fill="#1b8fd8"/>
<line x1="47.29" y1="201.6" x2="47.29" y2="193" stroke="#9c9c9c" stroke-width="0.85"/>
<line x1="45.79" y1="193" x2="48.79" y2="193" stroke="#6e6e6e" stroke-width="0.8"/>
<rect x="49.59" y="197" width="3.2" height="8.6" fill="#fd7b22"/>
<line x1="51.19" y1="197" x2="51.19" y2="185" stroke="#9c9c9c" stroke-width="0.85"/>
<line x1="49.69" y1="185" x2="52.69" y2="185" stroke="#6e6e6e" stroke-width="0.8"/>
<rect x="58.97" y="202" width="3.2" height="3.6" fill="#1b8fd8"/>
<line x1="60.57" y1="202" x2="60.57" y2="196" stroke="#9c9c9c" stroke-width="0.85"/>
<line x1="59.07" y1="196" x2="62.07" y2="196" stroke="#6e6e6e" stroke-width="0.8"/>
<rect x="62.88" y="193.4" width="3.2" height="12.2" fill="#fd7b22"/>
<line x1="64.47" y1="193.4" x2="64.47" y2="180" stroke="#9c9c9c" stroke-width="0.85"/>
<line x1="62.97" y1="180" x2="65.97" y2="180" stroke="#6e6e6e" stroke-width="0.8"/>
<rect x="72.26" y="201" width="3.2" height="4.6" fill="#1b8fd8"/>
<line x1="73.86" y1="201" x2="73.86" y2="195.4" stroke="#9c9c9c" stroke-width="0.85"/>
<line x1="72.36" y1="195.4" x2="75.36" y2="195.4" stroke="#6e6e6e" stroke-width="0.8"/>
<rect x="76.16" y="189.6" width="3.2" height="16" fill="#fd7b22"/>
<line x1="77.76" y1="189.6" x2="77.76" y2="175" stroke="#9c9c9c" stroke-width="0.85"/>
<line x1="76.26" y1="175" x2="79.26" y2="175" stroke="#6e6e6e" stroke-width="0.8"/>
<rect x="85.54" y="201" width="3.2" height="4.6" fill="#1b8fd8"/>
<line x1="87.14" y1="201" x2="87.14" y2="194.4" stroke="#9c9c9c" stroke-width="0.85"/>
<line x1="85.64" y1="194.4" x2="88.64" y2="194.4" stroke="#6e6e6e" stroke-width="0.8"/>
<rect x="89.44" y="187.4" width="3.2" height="18.2" fill="#fd7b22"/>
<line x1="91.04" y1="187.4" x2="91.04" y2="171" stroke="#9c9c9c" stroke-width="0.85"/>
<line x1="89.54" y1="171" x2="92.54" y2="171" stroke="#6e6e6e" stroke-width="0.8"/>
<rect x="98.83" y="203.6" width="3.2" height="2" fill="#1b8fd8"/>
<line x1="100.42" y1="203.6" x2="100.42" y2="200.4" stroke="#9c9c9c" stroke-width="0.85"/>
<line x1="98.92" y1="200.4" x2="101.92" y2="200.4" stroke="#6e6e6e" stroke-width="0.8"/>
<rect x="102.72" y="186.4" width="3.2" height="19.2" fill="#fd7b22"/>
<line x1="104.32" y1="186.4" x2="104.32" y2="169.4" stroke="#9c9c9c" stroke-width="0.85"/>
<line x1="102.82" y1="169.4" x2="105.82" y2="169.4" stroke="#6e6e6e" stroke-width="0.8"/>
<rect x="112.11" y="202" width="3.2" height="3.6" fill="#1b8fd8"/>
<line x1="113.71" y1="202" x2="113.71" y2="199" stroke="#9c9c9c" stroke-width="0.85"/>
<line x1="112.21" y1="199" x2="115.21" y2="199" stroke="#6e6e6e" stroke-width="0.8"/>
<rect x="116.01" y="186.4" width="3.2" height="19.2" fill="#fd7b22"/>
<line x1="117.61" y1="186.4" x2="117.61" y2="169.4" stroke="#9c9c9c" stroke-width="0.85"/>
<line x1="116.11" y1="169.4" x2="119.11" y2="169.4" stroke="#6e6e6e" stroke-width="0.8"/>
<line x1="42.6" y1="165.6" x2="42.6" y2="205.6" stroke="#666666" stroke-width="0.9"/>
<line x1="42.6" y1="205.6" x2="122.3" y2="205.6" stroke="#b4b4b4" stroke-width="1"/>
<line x1="41" y1="205.6" x2="42.6" y2="205.6" stroke="#666666" stroke-width="0.7"/>
<text x="38.4" y="207.1" font-size="5.0" text-anchor="end" fill="#444444">0</text>
<line x1="41" y1="192.27" x2="42.6" y2="192.27" stroke="#666666" stroke-width="0.7"/>
<text x="38.4" y="193.77" font-size="5.0" text-anchor="end" fill="#444444">1500</text>
<line x1="41" y1="178.93" x2="42.6" y2="178.93" stroke="#666666" stroke-width="0.7"/>
<text x="38.4" y="180.43" font-size="5.0" text-anchor="end" fill="#444444">3000</text>
<line x1="41" y1="165.6" x2="42.6" y2="165.6" stroke="#666666" stroke-width="0.7"/>
<text x="38.4" y="167.1" font-size="5.0" text-anchor="end" fill="#444444">4500</text>
<line x1="42.6" y1="205.6" x2="42.6" y2="207.2" stroke="#b4b4b4" stroke-width="0.7"/>
<line x1="55.88" y1="205.6" x2="55.88" y2="207.2" stroke="#b4b4b4" stroke-width="0.7"/>
<line x1="69.17" y1="205.6" x2="69.17" y2="207.2" stroke="#b4b4b4" stroke-width="0.7"/>
<line x1="82.45" y1="205.6" x2="82.45" y2="207.2" stroke="#b4b4b4" stroke-width="0.7"/>
<line x1="95.73" y1="205.6" x2="95.73" y2="207.2" stroke="#b4b4b4" stroke-width="0.7"/>
<line x1="109.02" y1="205.6" x2="109.02" y2="207.2" stroke="#b4b4b4" stroke-width="0.7"/>
<line x1="122.3" y1="205.6" x2="122.3" y2="207.2" stroke="#b4b4b4" stroke-width="0.7"/>
<text x="49.84" y="213.28" font-size="5.5" text-anchor="middle" fill="#444444">10</text>
<text x="63.12" y="213.28" font-size="5.5" text-anchor="middle" fill="#444444">20</text>
<text x="76.41" y="213.28" font-size="5.5" text-anchor="middle" fill="#444444">30</text>
<text x="89.69" y="213.28" font-size="5.5" text-anchor="middle" fill="#444444">40</text>
<text x="102.97" y="213.28" font-size="5.5" text-anchor="middle" fill="#444444">50</text>
<text x="116.26" y="213.28" font-size="5.5" text-anchor="middle" fill="#444444">57</text>
<rect x="45.55" y="257.6" width="3.2" height="1.6" fill="#1b8fd8"/>
<line x1="47.15" y1="257.6" x2="47.15" y2="253.19" stroke="#9c9c9c" stroke-width="0.85"/>
<line x1="45.65" y1="253.19" x2="48.65" y2="253.19" stroke="#6e6e6e" stroke-width="0.8"/>
<rect x="49.45" y="250.18" width="3.2" height="9.02" fill="#fd7b22"/>
<line x1="51.05" y1="250.18" x2="51.05" y2="240.55" stroke="#9c9c9c" stroke-width="0.85"/>
<line x1="49.55" y1="240.55" x2="52.55" y2="240.55" stroke="#6e6e6e" stroke-width="0.8"/>
<rect x="58.95" y="258.6" width="3.2" height="0.6" fill="#1b8fd8"/>
<rect x="62.85" y="245.17" width="3.2" height="14.03" fill="#fd7b22"/>
<line x1="64.45" y1="245.17" x2="64.45" y2="233.54" stroke="#9c9c9c" stroke-width="0.85"/>
<line x1="62.95" y1="233.54" x2="65.95" y2="233.54" stroke="#6e6e6e" stroke-width="0.8"/>
<rect x="72.35" y="259.06" width="3.2" height="0.13" fill="#1b8fd8"/>
<rect x="76.25" y="240.16" width="3.2" height="19.04" fill="#fd7b22"/>
<line x1="77.85" y1="240.16" x2="77.85" y2="226.52" stroke="#9c9c9c" stroke-width="0.85"/>
<line x1="76.35" y1="226.52" x2="79.35" y2="226.52" stroke="#6e6e6e" stroke-width="0.8"/>
<rect x="85.75" y="258.93" width="3.2" height="0.27" fill="#1b8fd8"/>
<rect x="89.65" y="238.15" width="3.2" height="21.05" fill="#fd7b22"/>
<line x1="91.25" y1="238.15" x2="91.25" y2="222.51" stroke="#9c9c9c" stroke-width="0.85"/>
<line x1="89.75" y1="222.51" x2="92.75" y2="222.51" stroke="#6e6e6e" stroke-width="0.8"/>
<rect x="99.15" y="259.11" width="3.2" height="0.09" fill="#1b8fd8"/>
<rect x="103.05" y="236.55" width="3.2" height="22.65" fill="#fd7b22"/>
<line x1="104.65" y1="236.55" x2="104.65" y2="219.5" stroke="#9c9c9c" stroke-width="0.85"/>
<line x1="103.15" y1="219.5" x2="106.15" y2="219.5" stroke="#6e6e6e" stroke-width="0.8"/>
<rect x="112.55" y="258.75" width="3.2" height="0.45" fill="#1b8fd8"/>
<rect x="116.45" y="236.55" width="3.2" height="22.65" fill="#fd7b22"/>
<line x1="118.05" y1="236.55" x2="118.05" y2="219.5" stroke="#9c9c9c" stroke-width="0.85"/>
<line x1="116.55" y1="219.5" x2="119.55" y2="219.5" stroke="#6e6e6e" stroke-width="0.8"/>
<line x1="42.4" y1="218.7" x2="42.4" y2="259.2" stroke="#666666" stroke-width="0.9"/>
<line x1="42.4" y1="259.2" x2="122.8" y2="259.2" stroke="#b4b4b4" stroke-width="1"/>
<line x1="40.8" y1="259.2" x2="42.4" y2="259.2" stroke="#666666" stroke-width="0.7"/>
<text x="38.2" y="260.7" font-size="5.0" text-anchor="end" fill="#444444">0</text>
<line x1="40.8" y1="245.7" x2="42.4" y2="245.7" stroke="#666666" stroke-width="0.7"/>
<text x="38.2" y="247.2" font-size="5.0" text-anchor="end" fill="#444444">1500</text>
<line x1="40.8" y1="232.2" x2="42.4" y2="232.2" stroke="#666666" stroke-width="0.7"/>
<text x="38.2" y="233.7" font-size="5.0" text-anchor="end" fill="#444444">3000</text>
<line x1="40.8" y1="218.7" x2="42.4" y2="218.7" stroke="#666666" stroke-width="0.7"/>
<text x="38.2" y="220.2" font-size="5.0" text-anchor="end" fill="#444444">4500</text>
<line x1="42.4" y1="259.2" x2="42.4" y2="260.8" stroke="#b4b4b4" stroke-width="0.7"/>
<line x1="55.8" y1="259.2" x2="55.8" y2="260.8" stroke="#b4b4b4" stroke-width="0.7"/>
<line x1="69.2" y1="259.2" x2="69.2" y2="260.8" stroke="#b4b4b4" stroke-width="0.7"/>
<line x1="82.6" y1="259.2" x2="82.6" y2="260.8" stroke="#b4b4b4" stroke-width="0.7"/>
<line x1="96" y1="259.2" x2="96" y2="260.8" stroke="#b4b4b4" stroke-width="0.7"/>
<line x1="109.4" y1="259.2" x2="109.4" y2="260.8" stroke="#b4b4b4" stroke-width="0.7"/>
<line x1="122.8" y1="259.2" x2="122.8" y2="260.8" stroke="#b4b4b4" stroke-width="0.7"/>
<text x="49.7" y="266.88" font-size="5.5" text-anchor="middle" fill="#444444">10</text>
<text x="63.1" y="266.88" font-size="5.5" text-anchor="middle" fill="#444444">20</text>
<text x="76.5" y="266.88" font-size="5.5" text-anchor="middle" fill="#444444">30</text>
<text x="89.9" y="266.88" font-size="5.5" text-anchor="middle" fill="#444444">40</text>
<text x="103.3" y="266.88" font-size="5.5" text-anchor="middle" fill="#444444">50</text>
<text x="116.7" y="266.88" font-size="5.5" text-anchor="middle" fill="#444444">53</text>
<rect x="146.95" y="193.63" width="3.2" height="11.57" fill="#1b8fd8"/>
<line x1="148.55" y1="193.63" x2="148.55" y2="181.15" stroke="#9c9c9c" stroke-width="0.85"/>
<line x1="147.05" y1="181.15" x2="150.05" y2="181.15" stroke="#6e6e6e" stroke-width="0.8"/>
<rect x="150.85" y="197.37" width="3.2" height="7.83" fill="#fd7b22"/>
<line x1="152.45" y1="197.37" x2="152.45" y2="188.98" stroke="#9c9c9c" stroke-width="0.85"/>
<line x1="150.95" y1="188.98" x2="153.95" y2="188.98" stroke="#6e6e6e" stroke-width="0.8"/>
<rect x="160.95" y="195.1" width="3.2" height="10.1" fill="#1b8fd8"/>
<line x1="162.55" y1="195.1" x2="162.55" y2="184.22" stroke="#9c9c9c" stroke-width="0.85"/>
<line x1="161.05" y1="184.22" x2="164.05" y2="184.22" stroke="#6e6e6e" stroke-width="0.8"/>
<rect x="164.85" y="198.85" width="3.2" height="6.35" fill="#fd7b22"/>
<line x1="166.45" y1="198.85" x2="166.45" y2="190.91" stroke="#9c9c9c" stroke-width="0.85"/>
<line x1="164.95" y1="190.91" x2="167.95" y2="190.91" stroke="#6e6e6e" stroke-width="0.8"/>
<rect x="174.95" y="192.16" width="3.2" height="13.04" fill="#1b8fd8"/>
<line x1="176.55" y1="192.16" x2="176.55" y2="178.54" stroke="#9c9c9c" stroke-width="0.85"/>
<line x1="175.05" y1="178.54" x2="178.05" y2="178.54" stroke="#6e6e6e" stroke-width="0.8"/>
<rect x="178.85" y="199.53" width="3.2" height="5.67" fill="#fd7b22"/>
<line x1="180.45" y1="199.53" x2="180.45" y2="189.89" stroke="#9c9c9c" stroke-width="0.85"/>
<line x1="178.95" y1="189.89" x2="181.95" y2="189.89" stroke="#6e6e6e" stroke-width="0.8"/>
<rect x="188.95" y="192.38" width="3.2" height="12.82" fill="#1b8fd8"/>
<line x1="190.55" y1="192.38" x2="190.55" y2="179.79" stroke="#9c9c9c" stroke-width="0.85"/>
<line x1="189.05" y1="179.79" x2="192.05" y2="179.79" stroke="#6e6e6e" stroke-width="0.8"/>
<rect x="192.85" y="200.78" width="3.2" height="4.42" fill="#fd7b22"/>
<line x1="194.45" y1="200.78" x2="194.45" y2="193.86" stroke="#9c9c9c" stroke-width="0.85"/>
<line x1="192.95" y1="193.86" x2="195.95" y2="193.86" stroke="#6e6e6e" stroke-width="0.8"/>
<rect x="202.95" y="199.53" width="3.2" height="5.67" fill="#1b8fd8"/>
<line x1="204.55" y1="199.53" x2="204.55" y2="188.75" stroke="#9c9c9c" stroke-width="0.85"/>
<line x1="203.05" y1="188.75" x2="206.05" y2="188.75" stroke="#6e6e6e" stroke-width="0.8"/>
<rect x="206.85" y="198.85" width="3.2" height="6.35" fill="#fd7b22"/>
<line x1="208.45" y1="198.85" x2="208.45" y2="190.91" stroke="#9c9c9c" stroke-width="0.85"/>
<line x1="206.95" y1="190.91" x2="209.95" y2="190.91" stroke="#6e6e6e" stroke-width="0.8"/>
<rect x="216.95" y="198.51" width="3.2" height="6.69" fill="#1b8fd8"/>
<line x1="218.55" y1="198.51" x2="218.55" y2="188.41" stroke="#9c9c9c" stroke-width="0.85"/>
<line x1="217.05" y1="188.41" x2="220.05" y2="188.41" stroke="#6e6e6e" stroke-width="0.8"/>
<rect x="220.85" y="195.67" width="3.2" height="9.53" fill="#fd7b22"/>
<line x1="222.45" y1="195.67" x2="222.45" y2="173.44" stroke="#9c9c9c" stroke-width="0.85"/>
<line x1="220.95" y1="173.44" x2="223.95" y2="173.44" stroke="#6e6e6e" stroke-width="0.8"/>
<line x1="143.5" y1="165.5" x2="143.5" y2="205.2" stroke="#666666" stroke-width="0.9"/>
<line x1="143.5" y1="205.2" x2="227.5" y2="205.2" stroke="#b4b4b4" stroke-width="1"/>
<line x1="141.9" y1="205.2" x2="143.5" y2="205.2" stroke="#666666" stroke-width="0.7"/>
<text x="139.3" y="206.7" font-size="5.0" text-anchor="end" fill="#444444">0</text>
<line x1="141.9" y1="199.53" x2="143.5" y2="199.53" stroke="#666666" stroke-width="0.7"/>
<text x="139.3" y="201.03" font-size="5.0" text-anchor="end" fill="#444444">50</text>
<line x1="141.9" y1="193.86" x2="143.5" y2="193.86" stroke="#666666" stroke-width="0.7"/>
<text x="139.3" y="195.36" font-size="5.0" text-anchor="end" fill="#444444">100</text>
<line x1="141.9" y1="188.19" x2="143.5" y2="188.19" stroke="#666666" stroke-width="0.7"/>
<text x="139.3" y="189.69" font-size="5.0" text-anchor="end" fill="#444444">150</text>
<line x1="141.9" y1="182.51" x2="143.5" y2="182.51" stroke="#666666" stroke-width="0.7"/>
<text x="139.3" y="184.01" font-size="5.0" text-anchor="end" fill="#444444">200</text>
<line x1="141.9" y1="176.84" x2="143.5" y2="176.84" stroke="#666666" stroke-width="0.7"/>
<text x="139.3" y="178.34" font-size="5.0" text-anchor="end" fill="#444444">250</text>
<line x1="141.9" y1="171.17" x2="143.5" y2="171.17" stroke="#666666" stroke-width="0.7"/>
<text x="139.3" y="172.67" font-size="5.0" text-anchor="end" fill="#444444">300</text>
<line x1="141.9" y1="165.5" x2="143.5" y2="165.5" stroke="#666666" stroke-width="0.7"/>
<text x="139.3" y="167" font-size="5.0" text-anchor="end" fill="#444444">350</text>
<line x1="143.5" y1="205.2" x2="143.5" y2="206.8" stroke="#b4b4b4" stroke-width="0.7"/>
<line x1="157.5" y1="205.2" x2="157.5" y2="206.8" stroke="#b4b4b4" stroke-width="0.7"/>
<line x1="171.5" y1="205.2" x2="171.5" y2="206.8" stroke="#b4b4b4" stroke-width="0.7"/>
<line x1="185.5" y1="205.2" x2="185.5" y2="206.8" stroke="#b4b4b4" stroke-width="0.7"/>
<line x1="199.5" y1="205.2" x2="199.5" y2="206.8" stroke="#b4b4b4" stroke-width="0.7"/>
<line x1="213.5" y1="205.2" x2="213.5" y2="206.8" stroke="#b4b4b4" stroke-width="0.7"/>
<line x1="227.5" y1="205.2" x2="227.5" y2="206.8" stroke="#b4b4b4" stroke-width="0.7"/>
<text x="151.1" y="212.88" font-size="5.5" text-anchor="middle" fill="#444444">10</text>
<text x="165.1" y="212.88" font-size="5.5" text-anchor="middle" fill="#444444">20</text>
<text x="179.1" y="212.88" font-size="5.5" text-anchor="middle" fill="#444444">30</text>
<text x="193.1" y="212.88" font-size="5.5" text-anchor="middle" fill="#444444">40</text>
<text x="207.1" y="212.88" font-size="5.5" text-anchor="middle" fill="#444444">50</text>
<text x="221.1" y="212.88" font-size="5.5" text-anchor="middle" fill="#444444">57</text>
<rect x="148.06" y="251.08" width="3.8" height="8.12" fill="#1b8fd8"/>
<line x1="149.96" y1="251.08" x2="149.96" y2="242.45" stroke="#9c9c9c" stroke-width="0.85"/>
<line x1="148.46" y1="242.45" x2="151.46" y2="242.45" stroke="#6e6e6e" stroke-width="0.8"/>
<rect x="152.86" y="253.36" width="3.8" height="5.84" fill="#fd7b22"/>
<line x1="154.76" y1="253.36" x2="154.76" y2="248.16" stroke="#9c9c9c" stroke-width="0.85"/>
<line x1="153.26" y1="248.16" x2="156.26" y2="248.16" stroke="#6e6e6e" stroke-width="0.8"/>
<rect x="165.18" y="251.97" width="3.8" height="7.23" fill="#1b8fd8"/>
<line x1="167.08" y1="251.97" x2="167.08" y2="243.47" stroke="#9c9c9c" stroke-width="0.85"/>
<line x1="165.58" y1="243.47" x2="168.58" y2="243.47" stroke="#6e6e6e" stroke-width="0.8"/>
<rect x="169.98" y="255.27" width="3.8" height="3.93" fill="#fd7b22"/>
<line x1="171.88" y1="255.27" x2="171.88" y2="251.97" stroke="#9c9c9c" stroke-width="0.85"/>
<line x1="170.38" y1="251.97" x2="173.38" y2="251.97" stroke="#6e6e6e" stroke-width="0.8"/>
<rect x="182.3" y="257.17" width="3.8" height="2.03" fill="#1b8fd8"/>
<rect x="187.1" y="256.16" width="3.8" height="3.04" fill="#fd7b22"/>
<line x1="189" y1="256.16" x2="189" y2="254.51" stroke="#9c9c9c" stroke-width="0.85"/>
<line x1="187.5" y1="254.51" x2="190.5" y2="254.51" stroke="#6e6e6e" stroke-width="0.8"/>
<rect x="199.42" y="256.66" width="3.8" height="2.54" fill="#1b8fd8"/>
<line x1="201.32" y1="256.66" x2="201.32" y2="255.39" stroke="#9c9c9c" stroke-width="0.85"/>
<line x1="199.82" y1="255.39" x2="202.82" y2="255.39" stroke="#6e6e6e" stroke-width="0.8"/>
<rect x="204.22" y="246.26" width="3.8" height="12.94" fill="#fd7b22"/>
<line x1="206.12" y1="246.26" x2="206.12" y2="223.43" stroke="#9c9c9c" stroke-width="0.85"/>
<line x1="204.62" y1="223.43" x2="207.62" y2="223.43" stroke="#6e6e6e" stroke-width="0.8"/>
<rect x="216.54" y="257.3" width="3.8" height="1.9" fill="#1b8fd8"/>
<rect x="221.34" y="244.99" width="3.8" height="14.21" fill="#fd7b22"/>
<line x1="223.24" y1="244.99" x2="223.24" y2="219.62" stroke="#9c9c9c" stroke-width="0.85"/>
<line x1="221.74" y1="219.62" x2="224.74" y2="219.62" stroke="#6e6e6e" stroke-width="0.8"/>
<line x1="143.8" y1="214.8" x2="143.8" y2="259.2" stroke="#666666" stroke-width="0.9"/>
<line x1="143.8" y1="259.2" x2="229.4" y2="259.2" stroke="#b4b4b4" stroke-width="1"/>
<line x1="142.2" y1="259.2" x2="143.8" y2="259.2" stroke="#666666" stroke-width="0.7"/>
<text x="139.6" y="260.7" font-size="5.0" text-anchor="end" fill="#444444">0</text>
<line x1="142.2" y1="252.86" x2="143.8" y2="252.86" stroke="#666666" stroke-width="0.7"/>
<text x="139.6" y="254.36" font-size="5.0" text-anchor="end" fill="#444444">50</text>
<line x1="142.2" y1="246.51" x2="143.8" y2="246.51" stroke="#666666" stroke-width="0.7"/>
<text x="139.6" y="248.01" font-size="5.0" text-anchor="end" fill="#444444">100</text>
<line x1="142.2" y1="240.17" x2="143.8" y2="240.17" stroke="#666666" stroke-width="0.7"/>
<text x="139.6" y="241.67" font-size="5.0" text-anchor="end" fill="#444444">150</text>
<line x1="142.2" y1="233.83" x2="143.8" y2="233.83" stroke="#666666" stroke-width="0.7"/>
<text x="139.6" y="235.33" font-size="5.0" text-anchor="end" fill="#444444">200</text>
<line x1="142.2" y1="227.49" x2="143.8" y2="227.49" stroke="#666666" stroke-width="0.7"/>
<text x="139.6" y="228.99" font-size="5.0" text-anchor="end" fill="#444444">250</text>
<line x1="142.2" y1="221.14" x2="143.8" y2="221.14" stroke="#666666" stroke-width="0.7"/>
<text x="139.6" y="222.64" font-size="5.0" text-anchor="end" fill="#444444">300</text>
<line x1="142.2" y1="214.8" x2="143.8" y2="214.8" stroke="#666666" stroke-width="0.7"/>
<text x="139.6" y="216.3" font-size="5.0" text-anchor="end" fill="#444444">350</text>
<line x1="143.8" y1="259.2" x2="143.8" y2="260.8" stroke="#b4b4b4" stroke-width="0.7"/>
<line x1="160.92" y1="259.2" x2="160.92" y2="260.8" stroke="#b4b4b4" stroke-width="0.7"/>
<line x1="178.04" y1="259.2" x2="178.04" y2="260.8" stroke="#b4b4b4" stroke-width="0.7"/>
<line x1="195.16" y1="259.2" x2="195.16" y2="260.8" stroke="#b4b4b4" stroke-width="0.7"/>
<line x1="212.28" y1="259.2" x2="212.28" y2="260.8" stroke="#b4b4b4" stroke-width="0.7"/>
<line x1="229.4" y1="259.2" x2="229.4" y2="260.8" stroke="#b4b4b4" stroke-width="0.7"/>
<text x="152.96" y="266.88" font-size="5.5" text-anchor="middle" fill="#444444">10</text>
<text x="170.08" y="266.88" font-size="5.5" text-anchor="middle" fill="#444444">20</text>
<text x="187.2" y="266.88" font-size="5.5" text-anchor="middle" fill="#444444">30</text>
<text x="204.32" y="266.88" font-size="5.5" text-anchor="middle" fill="#444444">50</text>
<text x="221.44" y="266.88" font-size="5.5" text-anchor="middle" fill="#444444">53</text>
<rect x="253.06" y="195.41" width="3.2" height="9.19" fill="#1b8fd8"/>
<line x1="254.66" y1="195.41" x2="254.66" y2="187.75" stroke="#9c9c9c" stroke-width="0.85"/>
<line x1="253.16" y1="187.75" x2="256.16" y2="187.75" stroke="#6e6e6e" stroke-width="0.8"/>
<rect x="256.96" y="197.32" width="3.2" height="7.28" fill="#fd7b22"/>
<line x1="258.56" y1="197.32" x2="258.56" y2="191.19" stroke="#9c9c9c" stroke-width="0.85"/>
<line x1="257.06" y1="191.19" x2="260.06" y2="191.19" stroke="#6e6e6e" stroke-width="0.8"/>
<rect x="267.07" y="194.64" width="3.2" height="9.96" fill="#1b8fd8"/>
<line x1="268.68" y1="194.64" x2="268.68" y2="183.53" stroke="#9c9c9c" stroke-width="0.85"/>
<line x1="267.18" y1="183.53" x2="270.18" y2="183.53" stroke="#6e6e6e" stroke-width="0.8"/>
<rect x="270.98" y="196.94" width="3.2" height="7.66" fill="#fd7b22"/>
<line x1="272.58" y1="196.94" x2="272.58" y2="188.9" stroke="#9c9c9c" stroke-width="0.85"/>
<line x1="271.08" y1="188.9" x2="274.08" y2="188.9" stroke="#6e6e6e" stroke-width="0.8"/>
<rect x="281.09" y="195.41" width="3.2" height="9.19" fill="#1b8fd8"/>
<line x1="282.69" y1="195.41" x2="282.69" y2="185.83" stroke="#9c9c9c" stroke-width="0.85"/>
<line x1="281.19" y1="185.83" x2="284.19" y2="185.83" stroke="#6e6e6e" stroke-width="0.8"/>
<rect x="284.99" y="196.94" width="3.2" height="7.66" fill="#fd7b22"/>
<line x1="286.59" y1="196.94" x2="286.59" y2="188.51" stroke="#9c9c9c" stroke-width="0.85"/>
<line x1="285.09" y1="188.51" x2="288.09" y2="188.51" stroke="#6e6e6e" stroke-width="0.8"/>
<rect x="295.11" y="200.2" width="3.2" height="4.4" fill="#1b8fd8"/>
<line x1="296.71" y1="200.2" x2="296.71" y2="196.56" stroke="#9c9c9c" stroke-width="0.85"/>
<line x1="295.21" y1="196.56" x2="298.21" y2="196.56" stroke="#6e6e6e" stroke-width="0.8"/>
<rect x="299.01" y="197.32" width="3.2" height="7.28" fill="#fd7b22"/>
<line x1="300.61" y1="197.32" x2="300.61" y2="188.9" stroke="#9c9c9c" stroke-width="0.85"/>
<line x1="299.11" y1="188.9" x2="302.11" y2="188.9" stroke="#6e6e6e" stroke-width="0.8"/>
<rect x="309.12" y="200.2" width="3.2" height="4.4" fill="#1b8fd8"/>
<line x1="310.73" y1="200.2" x2="310.73" y2="197.48" stroke="#9c9c9c" stroke-width="0.85"/>
<line x1="309.23" y1="197.48" x2="312.23" y2="197.48" stroke="#6e6e6e" stroke-width="0.8"/>
<rect x="313.03" y="198.28" width="3.2" height="6.32" fill="#fd7b22"/>
<line x1="314.63" y1="198.28" x2="314.63" y2="191.58" stroke="#9c9c9c" stroke-width="0.85"/>
<line x1="313.13" y1="191.58" x2="316.13" y2="191.58" stroke="#6e6e6e" stroke-width="0.8"/>
<rect x="323.14" y="178.17" width="3.2" height="26.43" fill="#1b8fd8"/>
<rect x="327.04" y="198.47" width="3.2" height="6.13" fill="#fd7b22"/>
<line x1="328.64" y1="198.47" x2="328.64" y2="191.58" stroke="#9c9c9c" stroke-width="0.85"/>
<line x1="327.14" y1="191.58" x2="330.14" y2="191.58" stroke="#6e6e6e" stroke-width="0.8"/>
<line x1="249.6" y1="166.3" x2="249.6" y2="204.6" stroke="#666666" stroke-width="0.9"/>
<line x1="249.6" y1="204.6" x2="333.7" y2="204.6" stroke="#b4b4b4" stroke-width="1"/>
<line x1="248" y1="204.6" x2="249.6" y2="204.6" stroke="#666666" stroke-width="0.7"/>
<text x="245.4" y="206.1" font-size="5.0" text-anchor="end" fill="#444444">0</text>
<line x1="248" y1="195.03" x2="249.6" y2="195.03" stroke="#666666" stroke-width="0.7"/>
<text x="245.4" y="196.53" font-size="5.0" text-anchor="end" fill="#444444">25</text>
<line x1="248" y1="185.45" x2="249.6" y2="185.45" stroke="#666666" stroke-width="0.7"/>
<text x="245.4" y="186.95" font-size="5.0" text-anchor="end" fill="#444444">50</text>
<line x1="248" y1="175.88" x2="249.6" y2="175.88" stroke="#666666" stroke-width="0.7"/>
<text x="245.4" y="177.38" font-size="5.0" text-anchor="end" fill="#444444">75</text>
<line x1="248" y1="166.3" x2="249.6" y2="166.3" stroke="#666666" stroke-width="0.7"/>
<text x="245.4" y="167.8" font-size="5.0" text-anchor="end" fill="#444444">100</text>
<line x1="249.6" y1="204.6" x2="249.6" y2="206.2" stroke="#b4b4b4" stroke-width="0.7"/>
<line x1="263.62" y1="204.6" x2="263.62" y2="206.2" stroke="#b4b4b4" stroke-width="0.7"/>
<line x1="277.63" y1="204.6" x2="277.63" y2="206.2" stroke="#b4b4b4" stroke-width="0.7"/>
<line x1="291.65" y1="204.6" x2="291.65" y2="206.2" stroke="#b4b4b4" stroke-width="0.7"/>
<line x1="305.67" y1="204.6" x2="305.67" y2="206.2" stroke="#b4b4b4" stroke-width="0.7"/>
<line x1="319.68" y1="204.6" x2="319.68" y2="206.2" stroke="#b4b4b4" stroke-width="0.7"/>
<line x1="333.7" y1="204.6" x2="333.7" y2="206.2" stroke="#b4b4b4" stroke-width="0.7"/>
<text x="257.21" y="212.28" font-size="5.5" text-anchor="middle" fill="#444444">10</text>
<text x="271.23" y="212.28" font-size="5.5" text-anchor="middle" fill="#444444">20</text>
<text x="285.24" y="212.28" font-size="5.5" text-anchor="middle" fill="#444444">30</text>
<text x="299.26" y="212.28" font-size="5.5" text-anchor="middle" fill="#444444">40</text>
<text x="313.28" y="212.28" font-size="5.5" text-anchor="middle" fill="#444444">50</text>
<text x="327.29" y="212.28" font-size="5.5" text-anchor="middle" fill="#444444">57</text>
<rect x="254.2" y="240.35" width="4.6" height="17.95" fill="#1b8fd8"/>
<line x1="256.5" y1="240.35" x2="256.5" y2="219.95" stroke="#9c9c9c" stroke-width="0.85"/>
<line x1="255" y1="219.95" x2="258" y2="219.95" stroke="#6e6e6e" stroke-width="0.8"/>
<rect x="260" y="250.38" width="4.6" height="7.92" fill="#fd7b22"/>
<line x1="262.3" y1="250.38" x2="262.3" y2="244.84" stroke="#9c9c9c" stroke-width="0.85"/>
<line x1="260.8" y1="244.84" x2="263.8" y2="244.84" stroke="#6e6e6e" stroke-width="0.8"/>
<rect x="275.2" y="247.69" width="4.6" height="10.61" fill="#1b8fd8"/>
<line x1="277.5" y1="247.69" x2="277.5" y2="234.23" stroke="#9c9c9c" stroke-width="0.85"/>
<line x1="276" y1="234.23" x2="279" y2="234.23" stroke="#6e6e6e" stroke-width="0.8"/>
<rect x="281" y="251.36" width="4.6" height="6.94" fill="#fd7b22"/>
<line x1="283.3" y1="251.36" x2="283.3" y2="247.28" stroke="#9c9c9c" stroke-width="0.85"/>
<line x1="281.8" y1="247.28" x2="284.8" y2="247.28" stroke="#6e6e6e" stroke-width="0.8"/>
<rect x="296.2" y="253.81" width="4.6" height="4.49" fill="#1b8fd8"/>
<rect x="302" y="252.59" width="4.6" height="5.71" fill="#fd7b22"/>
<line x1="304.3" y1="252.59" x2="304.3" y2="248.67" stroke="#9c9c9c" stroke-width="0.85"/>
<line x1="302.8" y1="248.67" x2="305.8" y2="248.67" stroke="#6e6e6e" stroke-width="0.8"/>
<rect x="317.2" y="253.81" width="4.6" height="4.49" fill="#1b8fd8"/>
<rect x="323" y="253.4" width="4.6" height="4.9" fill="#fd7b22"/>
<line x1="325.3" y1="253.4" x2="325.3" y2="250.96" stroke="#9c9c9c" stroke-width="0.85"/>
<line x1="323.8" y1="250.96" x2="326.8" y2="250.96" stroke="#6e6e6e" stroke-width="0.8"/>
<line x1="248.9" y1="217.5" x2="248.9" y2="258.3" stroke="#666666" stroke-width="0.9"/>
<line x1="248.9" y1="258.3" x2="332.9" y2="258.3" stroke="#b4b4b4" stroke-width="1"/>
<line x1="247.3" y1="258.3" x2="248.9" y2="258.3" stroke="#666666" stroke-width="0.7"/>
<text x="244.7" y="259.8" font-size="5.0" text-anchor="end" fill="#444444">0</text>
<line x1="247.3" y1="248.1" x2="248.9" y2="248.1" stroke="#666666" stroke-width="0.7"/>
<text x="244.7" y="249.6" font-size="5.0" text-anchor="end" fill="#444444">25</text>
<line x1="247.3" y1="237.9" x2="248.9" y2="237.9" stroke="#666666" stroke-width="0.7"/>
<text x="244.7" y="239.4" font-size="5.0" text-anchor="end" fill="#444444">50</text>
<line x1="247.3" y1="227.7" x2="248.9" y2="227.7" stroke="#666666" stroke-width="0.7"/>
<text x="244.7" y="229.2" font-size="5.0" text-anchor="end" fill="#444444">75</text>
<line x1="247.3" y1="217.5" x2="248.9" y2="217.5" stroke="#666666" stroke-width="0.7"/>
<text x="244.7" y="219" font-size="5.0" text-anchor="end" fill="#444444">100</text>
<line x1="248.9" y1="258.3" x2="248.9" y2="259.9" stroke="#b4b4b4" stroke-width="0.7"/>
<line x1="269.9" y1="258.3" x2="269.9" y2="259.9" stroke="#b4b4b4" stroke-width="0.7"/>
<line x1="290.9" y1="258.3" x2="290.9" y2="259.9" stroke="#b4b4b4" stroke-width="0.7"/>
<line x1="311.9" y1="258.3" x2="311.9" y2="259.9" stroke="#b4b4b4" stroke-width="0.7"/>
<line x1="332.9" y1="258.3" x2="332.9" y2="259.9" stroke="#b4b4b4" stroke-width="0.7"/>
<text x="260" y="265.98" font-size="5.5" text-anchor="middle" fill="#444444">10</text>
<text x="281" y="265.98" font-size="5.5" text-anchor="middle" fill="#444444">20</text>
<text x="302" y="265.98" font-size="5.5" text-anchor="middle" fill="#444444">30</text>
<text x="323" y="265.98" font-size="5.5" text-anchor="middle" fill="#444444">50</text>
<rect x="356.03" y="193.23" width="3.2" height="11.37" fill="#1b8fd8"/>
<line x1="357.63" y1="193.23" x2="357.63" y2="188.4" stroke="#9c9c9c" stroke-width="0.85"/>
<line x1="356.13" y1="188.4" x2="359.13" y2="188.4" stroke="#6e6e6e" stroke-width="0.8"/>
<rect x="359.93" y="198.33" width="3.2" height="6.27" fill="#fd7b22"/>
<rect x="369.98" y="198.33" width="3.2" height="6.27" fill="#1b8fd8"/>
<rect x="373.88" y="195.45" width="3.2" height="9.15" fill="#fd7b22"/>
<line x1="375.48" y1="195.45" x2="375.48" y2="191.14" stroke="#9c9c9c" stroke-width="0.85"/>
<line x1="373.98" y1="191.14" x2="376.98" y2="191.14" stroke="#6e6e6e" stroke-width="0.8"/>
<rect x="383.93" y="197.02" width="3.2" height="7.58" fill="#1b8fd8"/>
<line x1="385.53" y1="197.02" x2="385.53" y2="193.62" stroke="#9c9c9c" stroke-width="0.85"/>
<line x1="384.03" y1="193.62" x2="387.03" y2="193.62" stroke="#6e6e6e" stroke-width="0.8"/>
<rect x="387.83" y="197.02" width="3.2" height="7.58" fill="#fd7b22"/>
<line x1="389.43" y1="197.02" x2="389.43" y2="192.58" stroke="#9c9c9c" stroke-width="0.85"/>
<line x1="387.93" y1="192.58" x2="390.93" y2="192.58" stroke="#6e6e6e" stroke-width="0.8"/>
<rect x="397.88" y="199.77" width="3.2" height="4.83" fill="#1b8fd8"/>
<line x1="399.48" y1="199.77" x2="399.48" y2="197.02" stroke="#9c9c9c" stroke-width="0.85"/>
<line x1="397.98" y1="197.02" x2="400.98" y2="197.02" stroke="#6e6e6e" stroke-width="0.8"/>
<rect x="401.78" y="191.53" width="3.2" height="13.07" fill="#fd7b22"/>
<line x1="403.38" y1="191.53" x2="403.38" y2="191.27" stroke="#9c9c9c" stroke-width="0.85"/>
<line x1="401.88" y1="191.27" x2="404.88" y2="191.27" stroke="#6e6e6e" stroke-width="0.8"/>
<rect x="415.73" y="195.58" width="3.2" height="9.02" fill="#fd7b22"/>
<line x1="417.33" y1="195.58" x2="417.33" y2="192.58" stroke="#9c9c9c" stroke-width="0.85"/>
<line x1="415.83" y1="192.58" x2="418.83" y2="192.58" stroke="#6e6e6e" stroke-width="0.8"/>
<rect x="425.77" y="202.64" width="3.2" height="1.96" fill="#1b8fd8"/>
<line x1="427.38" y1="202.64" x2="427.38" y2="201.33" stroke="#9c9c9c" stroke-width="0.85"/>
<line x1="425.88" y1="201.33" x2="428.88" y2="201.33" stroke="#6e6e6e" stroke-width="0.8"/>
<rect x="429.68" y="198.33" width="3.2" height="6.27" fill="#fd7b22"/>
<line x1="431.28" y1="198.33" x2="431.28" y2="193.23" stroke="#9c9c9c" stroke-width="0.85"/>
<line x1="429.78" y1="193.23" x2="432.78" y2="193.23" stroke="#6e6e6e" stroke-width="0.8"/>
<line x1="352.6" y1="165.4" x2="352.6" y2="204.6" stroke="#666666" stroke-width="0.9"/>
<line x1="352.6" y1="204.6" x2="436.3" y2="204.6" stroke="#b4b4b4" stroke-width="1"/>
<line x1="351" y1="204.6" x2="352.6" y2="204.6" stroke="#666666" stroke-width="0.7"/>
<text x="348.4" y="206.1" font-size="5.0" text-anchor="end" fill="#444444">0</text>
<line x1="351" y1="191.53" x2="352.6" y2="191.53" stroke="#666666" stroke-width="0.7"/>
<text x="348.4" y="193.03" font-size="5.0" text-anchor="end" fill="#444444">10</text>
<line x1="351" y1="178.47" x2="352.6" y2="178.47" stroke="#666666" stroke-width="0.7"/>
<text x="348.4" y="179.97" font-size="5.0" text-anchor="end" fill="#444444">20</text>
<line x1="351" y1="165.4" x2="352.6" y2="165.4" stroke="#666666" stroke-width="0.7"/>
<text x="348.4" y="166.9" font-size="5.0" text-anchor="end" fill="#444444">30</text>
<line x1="352.6" y1="204.6" x2="352.6" y2="206.2" stroke="#b4b4b4" stroke-width="0.7"/>
<line x1="366.55" y1="204.6" x2="366.55" y2="206.2" stroke="#b4b4b4" stroke-width="0.7"/>
<line x1="380.5" y1="204.6" x2="380.5" y2="206.2" stroke="#b4b4b4" stroke-width="0.7"/>
<line x1="394.45" y1="204.6" x2="394.45" y2="206.2" stroke="#b4b4b4" stroke-width="0.7"/>
<line x1="408.4" y1="204.6" x2="408.4" y2="206.2" stroke="#b4b4b4" stroke-width="0.7"/>
<line x1="422.35" y1="204.6" x2="422.35" y2="206.2" stroke="#b4b4b4" stroke-width="0.7"/>
<line x1="436.3" y1="204.6" x2="436.3" y2="206.2" stroke="#b4b4b4" stroke-width="0.7"/>
<text x="360.18" y="212.28" font-size="5.5" text-anchor="middle" fill="#444444">10</text>
<text x="374.13" y="212.28" font-size="5.5" text-anchor="middle" fill="#444444">20</text>
<text x="388.08" y="212.28" font-size="5.5" text-anchor="middle" fill="#444444">30</text>
<text x="402.03" y="212.28" font-size="5.5" text-anchor="middle" fill="#444444">40</text>
<text x="415.98" y="212.28" font-size="5.5" text-anchor="middle" fill="#444444">50</text>
<text x="429.93" y="212.28" font-size="5.5" text-anchor="middle" fill="#444444">57</text>
<rect x="367.6" y="238.94" width="5.4" height="20.16" fill="#1b8fd8"/>
<line x1="370.3" y1="238.94" x2="370.3" y2="229.46" stroke="#9c9c9c" stroke-width="0.85"/>
<line x1="368.8" y1="229.46" x2="371.8" y2="229.46" stroke="#6e6e6e" stroke-width="0.8"/>
<rect x="374.6" y="233.39" width="5.4" height="25.71" fill="#fd7b22"/>
<line x1="377.3" y1="233.39" x2="377.3" y2="220.8" stroke="#9c9c9c" stroke-width="0.85"/>
<line x1="375.8" y1="220.8" x2="378.8" y2="220.8" stroke="#6e6e6e" stroke-width="0.8"/>
<rect x="408.8" y="242.86" width="5.4" height="16.24" fill="#1b8fd8"/>
<rect x="415.8" y="242.86" width="5.4" height="16.24" fill="#fd7b22"/>
<line x1="353.2" y1="218.5" x2="353.2" y2="259.1" stroke="#666666" stroke-width="0.9"/>
<line x1="353.2" y1="259.1" x2="435.6" y2="259.1" stroke="#b4b4b4" stroke-width="1"/>
<line x1="351.6" y1="259.1" x2="353.2" y2="259.1" stroke="#666666" stroke-width="0.7"/>
<text x="349" y="260.6" font-size="5.0" text-anchor="end" fill="#444444">0</text>
<line x1="351.6" y1="245.57" x2="353.2" y2="245.57" stroke="#666666" stroke-width="0.7"/>
<text x="349" y="247.07" font-size="5.0" text-anchor="end" fill="#444444">10</text>
<line x1="351.6" y1="232.03" x2="353.2" y2="232.03" stroke="#666666" stroke-width="0.7"/>
<text x="349" y="233.53" font-size="5.0" text-anchor="end" fill="#444444">20</text>
<line x1="351.6" y1="218.5" x2="353.2" y2="218.5" stroke="#666666" stroke-width="0.7"/>
<text x="349" y="220" font-size="5.0" text-anchor="end" fill="#444444">30</text>
<line x1="353.2" y1="259.1" x2="353.2" y2="260.7" stroke="#b4b4b4" stroke-width="0.7"/>
<line x1="394.4" y1="259.1" x2="394.4" y2="260.7" stroke="#b4b4b4" stroke-width="0.7"/>
<line x1="435.6" y1="259.1" x2="435.6" y2="260.7" stroke="#b4b4b4" stroke-width="0.7"/>
<text x="374.4" y="266.78" font-size="5.5" text-anchor="middle" fill="#444444">10</text>
<text x="415.6" y="266.78" font-size="5.5" text-anchor="middle" fill="#444444">20</text>
<rect x="46.55" y="316.98" width="5.9" height="5.42" fill="#1b8fd8"/>
<line x1="49.5" y1="316.98" x2="49.5" y2="300.35" stroke="#9c9c9c" stroke-width="0.85"/>
<line x1="48" y1="300.35" x2="51" y2="300.35" stroke="#6e6e6e" stroke-width="0.8"/>
<rect x="53.65" y="308.77" width="5.9" height="13.63" fill="#fd7b22"/>
<line x1="56.6" y1="308.77" x2="56.6" y2="287.3" stroke="#9c9c9c" stroke-width="0.85"/>
<line x1="55.1" y1="287.3" x2="58.1" y2="287.3" stroke="#6e6e6e" stroke-width="0.8"/>
<rect x="73.45" y="318.4" width="5.9" height="4" fill="#1b8fd8"/>
<line x1="76.4" y1="318.4" x2="76.4" y2="306.35" stroke="#9c9c9c" stroke-width="0.85"/>
<line x1="74.9" y1="306.35" x2="77.9" y2="306.35" stroke="#6e6e6e" stroke-width="0.8"/>
<rect x="80.55" y="305.35" width="5.9" height="17.05" fill="#fd7b22"/>
<line x1="83.5" y1="305.35" x2="83.5" y2="284.3" stroke="#9c9c9c" stroke-width="0.85"/>
<line x1="82" y1="284.3" x2="85" y2="284.3" stroke="#6e6e6e" stroke-width="0.8"/>
<rect x="100.35" y="322" width="5.9" height="0.4" fill="#1b8fd8"/>
<rect x="107.45" y="313.38" width="5.9" height="9.02" fill="#fd7b22"/>
<line x1="110.4" y1="313.38" x2="110.4" y2="300.35" stroke="#9c9c9c" stroke-width="0.85"/>
<line x1="108.9" y1="300.35" x2="111.9" y2="300.35" stroke="#6e6e6e" stroke-width="0.8"/>
<line x1="39.6" y1="283.9" x2="39.6" y2="322.4" stroke="#666666" stroke-width="0.9"/>
<line x1="39.6" y1="322.4" x2="120.3" y2="322.4" stroke="#b4b4b4" stroke-width="1"/>
<line x1="38" y1="322.4" x2="39.6" y2="322.4" stroke="#666666" stroke-width="0.7"/>
<text x="35.4" y="323.9" font-size="5.0" text-anchor="end" fill="#444444">0</text>
<line x1="38" y1="314.7" x2="39.6" y2="314.7" stroke="#666666" stroke-width="0.7"/>
<text x="35.4" y="316.2" font-size="5.0" text-anchor="end" fill="#444444">500</text>
<line x1="38" y1="307" x2="39.6" y2="307" stroke="#666666" stroke-width="0.7"/>
<text x="35.4" y="308.5" font-size="5.0" text-anchor="end" fill="#444444">1000</text>
<line x1="38" y1="299.3" x2="39.6" y2="299.3" stroke="#666666" stroke-width="0.7"/>
<text x="35.4" y="300.8" font-size="5.0" text-anchor="end" fill="#444444">1500</text>
<line x1="38" y1="291.6" x2="39.6" y2="291.6" stroke="#666666" stroke-width="0.7"/>
<text x="35.4" y="293.1" font-size="5.0" text-anchor="end" fill="#444444">2000</text>
<line x1="38" y1="283.9" x2="39.6" y2="283.9" stroke="#666666" stroke-width="0.7"/>
<text x="35.4" y="285.4" font-size="5.0" text-anchor="end" fill="#444444">2500</text>
<line x1="39.6" y1="322.4" x2="39.6" y2="324" stroke="#b4b4b4" stroke-width="0.7"/>
<line x1="66.5" y1="322.4" x2="66.5" y2="324" stroke="#b4b4b4" stroke-width="0.7"/>
<line x1="93.4" y1="322.4" x2="93.4" y2="324" stroke="#b4b4b4" stroke-width="0.7"/>
<line x1="120.3" y1="322.4" x2="120.3" y2="324" stroke="#b4b4b4" stroke-width="0.7"/>
<text x="53.65" y="330.08" font-size="5.5" text-anchor="middle" fill="#444444">10</text>
<text x="80.55" y="330.08" font-size="5.5" text-anchor="middle" fill="#444444">20</text>
<text x="107.45" y="330.08" font-size="5.5" text-anchor="middle" fill="#444444">30</text>
<rect x="45.96" y="384.3" width="3.6" height="3" fill="#1b8fd8"/>
<line x1="47.76" y1="384.3" x2="47.76" y2="376.91" stroke="#9c9c9c" stroke-width="0.85"/>
<line x1="46.26" y1="376.91" x2="49.26" y2="376.91" stroke="#6e6e6e" stroke-width="0.8"/>
<rect x="50.56" y="380.29" width="3.6" height="7.01" fill="#fd7b22"/>
<line x1="52.36" y1="380.29" x2="52.36" y2="369.3" stroke="#9c9c9c" stroke-width="0.85"/>
<line x1="50.86" y1="369.3" x2="53.86" y2="369.3" stroke="#6e6e6e" stroke-width="0.8"/>
<rect x="62.08" y="385.3" width="3.6" height="2" fill="#1b8fd8"/>
<line x1="63.88" y1="385.3" x2="63.88" y2="381.69" stroke="#9c9c9c" stroke-width="0.85"/>
<line x1="62.38" y1="381.69" x2="65.38" y2="381.69" stroke="#6e6e6e" stroke-width="0.8"/>
<rect x="66.68" y="379.29" width="3.6" height="8.01" fill="#fd7b22"/>
<line x1="68.48" y1="379.29" x2="68.48" y2="367.3" stroke="#9c9c9c" stroke-width="0.85"/>
<line x1="66.98" y1="367.3" x2="69.98" y2="367.3" stroke="#6e6e6e" stroke-width="0.8"/>
<rect x="78.2" y="386.3" width="3.6" height="1" fill="#1b8fd8"/>
<rect x="82.8" y="381.29" width="3.6" height="6.01" fill="#fd7b22"/>
<line x1="84.6" y1="381.29" x2="84.6" y2="370.9" stroke="#9c9c9c" stroke-width="0.85"/>
<line x1="83.1" y1="370.9" x2="86.1" y2="370.9" stroke="#6e6e6e" stroke-width="0.8"/>
<rect x="94.32" y="385.7" width="3.6" height="1.6" fill="#1b8fd8"/>
<rect x="98.92" y="380.69" width="3.6" height="6.61" fill="#fd7b22"/>
<line x1="100.72" y1="380.69" x2="100.72" y2="369.7" stroke="#9c9c9c" stroke-width="0.85"/>
<line x1="99.22" y1="369.7" x2="102.22" y2="369.7" stroke="#6e6e6e" stroke-width="0.8"/>
<rect x="110.44" y="386.3" width="3.6" height="1" fill="#1b8fd8"/>
<rect x="115.04" y="380.69" width="3.6" height="6.61" fill="#fd7b22"/>
<line x1="116.84" y1="380.69" x2="116.84" y2="369.3" stroke="#9c9c9c" stroke-width="0.85"/>
<line x1="115.34" y1="369.3" x2="118.34" y2="369.3" stroke="#6e6e6e" stroke-width="0.8"/>
<line x1="42" y1="341.8" x2="42" y2="387.3" stroke="#666666" stroke-width="0.9"/>
<line x1="42" y1="387.3" x2="122.6" y2="387.3" stroke="#b4b4b4" stroke-width="1"/>
<line x1="40.4" y1="387.3" x2="42" y2="387.3" stroke="#666666" stroke-width="0.7"/>
<text x="37.8" y="388.8" font-size="5.0" text-anchor="end" fill="#444444">0</text>
<line x1="40.4" y1="378.2" x2="42" y2="378.2" stroke="#666666" stroke-width="0.7"/>
<text x="37.8" y="379.7" font-size="5.0" text-anchor="end" fill="#444444">500</text>
<line x1="40.4" y1="369.1" x2="42" y2="369.1" stroke="#666666" stroke-width="0.7"/>
<text x="37.8" y="370.6" font-size="5.0" text-anchor="end" fill="#444444">1000</text>
<line x1="40.4" y1="360" x2="42" y2="360" stroke="#666666" stroke-width="0.7"/>
<text x="37.8" y="361.5" font-size="5.0" text-anchor="end" fill="#444444">1500</text>
<line x1="40.4" y1="350.9" x2="42" y2="350.9" stroke="#666666" stroke-width="0.7"/>
<text x="37.8" y="352.4" font-size="5.0" text-anchor="end" fill="#444444">2000</text>
<line x1="40.4" y1="341.8" x2="42" y2="341.8" stroke="#666666" stroke-width="0.7"/>
<text x="37.8" y="343.3" font-size="5.0" text-anchor="end" fill="#444444">2500</text>
<line x1="42" y1="387.3" x2="42" y2="388.9" stroke="#b4b4b4" stroke-width="0.7"/>
<line x1="58.12" y1="387.3" x2="58.12" y2="388.9" stroke="#b4b4b4" stroke-width="0.7"/>
<line x1="74.24" y1="387.3" x2="74.24" y2="388.9" stroke="#b4b4b4" stroke-width="0.7"/>
<line x1="90.36" y1="387.3" x2="90.36" y2="388.9" stroke="#b4b4b4" stroke-width="0.7"/>
<line x1="106.48" y1="387.3" x2="106.48" y2="388.9" stroke="#b4b4b4" stroke-width="0.7"/>
<line x1="122.6" y1="387.3" x2="122.6" y2="388.9" stroke="#b4b4b4" stroke-width="0.7"/>
<text x="50.66" y="394.98" font-size="5.5" text-anchor="middle" fill="#444444">10</text>
<text x="66.78" y="394.98" font-size="5.5" text-anchor="middle" fill="#444444">20</text>
<text x="82.9" y="394.98" font-size="5.5" text-anchor="middle" fill="#444444">30</text>
<text x="99.02" y="394.98" font-size="5.5" text-anchor="middle" fill="#444444">40</text>
<text x="115.14" y="394.98" font-size="5.5" text-anchor="middle" fill="#444444">50</text>
<rect x="148.93" y="311.24" width="3.2" height="10.96" fill="#1b8fd8"/>
<line x1="150.53" y1="311.24" x2="150.53" y2="296.26" stroke="#9c9c9c" stroke-width="0.85"/>
<line x1="149.03" y1="296.26" x2="152.03" y2="296.26" stroke="#6e6e6e" stroke-width="0.8"/>
<rect x="152.83" y="311.24" width="3.2" height="10.96" fill="#fd7b22"/>
<line x1="154.43" y1="311.24" x2="154.43" y2="294.35" stroke="#9c9c9c" stroke-width="0.85"/>
<line x1="152.93" y1="294.35" x2="155.93" y2="294.35" stroke="#6e6e6e" stroke-width="0.8"/>
<rect x="162.7" y="313.16" width="3.2" height="9.04" fill="#1b8fd8"/>
<line x1="164.3" y1="313.16" x2="164.3" y2="298.58" stroke="#9c9c9c" stroke-width="0.85"/>
<line x1="162.8" y1="298.58" x2="165.8" y2="298.58" stroke="#6e6e6e" stroke-width="0.8"/>
<rect x="166.6" y="312.54" width="3.2" height="9.66" fill="#fd7b22"/>
<line x1="168.2" y1="312.54" x2="168.2" y2="294.96" stroke="#9c9c9c" stroke-width="0.85"/>
<line x1="166.7" y1="294.96" x2="169.7" y2="294.96" stroke="#6e6e6e" stroke-width="0.8"/>
<rect x="176.47" y="319.89" width="3.2" height="2.31" fill="#1b8fd8"/>
<line x1="178.07" y1="319.89" x2="178.07" y2="317.78" stroke="#9c9c9c" stroke-width="0.85"/>
<line x1="176.57" y1="317.78" x2="179.57" y2="317.78" stroke="#6e6e6e" stroke-width="0.8"/>
<rect x="180.37" y="310.04" width="3.2" height="12.16" fill="#fd7b22"/>
<line x1="181.97" y1="310.04" x2="181.97" y2="288.23" stroke="#9c9c9c" stroke-width="0.85"/>
<line x1="180.47" y1="288.23" x2="183.47" y2="288.23" stroke="#6e6e6e" stroke-width="0.8"/>
<rect x="190.23" y="321.19" width="3.2" height="1.01" fill="#1b8fd8"/>
<rect x="194.13" y="307.84" width="3.2" height="14.36" fill="#fd7b22"/>
<line x1="195.73" y1="307.84" x2="195.73" y2="287.62" stroke="#9c9c9c" stroke-width="0.85"/>
<line x1="194.23" y1="287.62" x2="197.23" y2="287.62" stroke="#6e6e6e" stroke-width="0.8"/>
<rect x="204" y="321.8" width="3.2" height="0.4" fill="#1b8fd8"/>
<rect x="207.9" y="307.44" width="3.2" height="14.76" fill="#fd7b22"/>
<line x1="209.5" y1="307.44" x2="209.5" y2="289.54" stroke="#9c9c9c" stroke-width="0.85"/>
<line x1="208" y1="289.54" x2="211" y2="289.54" stroke="#6e6e6e" stroke-width="0.8"/>
<rect x="217.77" y="321.8" width="3.2" height="0.4" fill="#1b8fd8"/>
<rect x="221.67" y="305.52" width="3.2" height="16.68" fill="#fd7b22"/>
<line x1="223.27" y1="305.52" x2="223.27" y2="288.92" stroke="#9c9c9c" stroke-width="0.85"/>
<line x1="221.77" y1="288.92" x2="224.77" y2="288.92" stroke="#6e6e6e" stroke-width="0.8"/>
<line x1="145.6" y1="282.3" x2="145.6" y2="322.2" stroke="#666666" stroke-width="0.9"/>
<line x1="145.6" y1="322.2" x2="228.2" y2="322.2" stroke="#b4b4b4" stroke-width="1"/>
<line x1="144" y1="322.2" x2="145.6" y2="322.2" stroke="#666666" stroke-width="0.7"/>
<text x="141.4" y="323.7" font-size="5.0" text-anchor="end" fill="#444444">0</text>
<line x1="144" y1="314.22" x2="145.6" y2="314.22" stroke="#666666" stroke-width="0.7"/>
<text x="141.4" y="315.72" font-size="5.0" text-anchor="end" fill="#444444">300</text>
<line x1="144" y1="306.24" x2="145.6" y2="306.24" stroke="#666666" stroke-width="0.7"/>
<text x="141.4" y="307.74" font-size="5.0" text-anchor="end" fill="#444444">600</text>
<line x1="144" y1="298.26" x2="145.6" y2="298.26" stroke="#666666" stroke-width="0.7"/>
<text x="141.4" y="299.76" font-size="5.0" text-anchor="end" fill="#444444">900</text>
<line x1="144" y1="290.28" x2="145.6" y2="290.28" stroke="#666666" stroke-width="0.7"/>
<text x="141.4" y="291.78" font-size="5.0" text-anchor="end" fill="#444444">1200</text>
<line x1="144" y1="282.3" x2="145.6" y2="282.3" stroke="#666666" stroke-width="0.7"/>
<text x="141.4" y="283.8" font-size="5.0" text-anchor="end" fill="#444444">1500</text>
<line x1="145.6" y1="322.2" x2="145.6" y2="323.8" stroke="#b4b4b4" stroke-width="0.7"/>
<line x1="159.37" y1="322.2" x2="159.37" y2="323.8" stroke="#b4b4b4" stroke-width="0.7"/>
<line x1="173.13" y1="322.2" x2="173.13" y2="323.8" stroke="#b4b4b4" stroke-width="0.7"/>
<line x1="186.9" y1="322.2" x2="186.9" y2="323.8" stroke="#b4b4b4" stroke-width="0.7"/>
<line x1="200.67" y1="322.2" x2="200.67" y2="323.8" stroke="#b4b4b4" stroke-width="0.7"/>
<line x1="214.43" y1="322.2" x2="214.43" y2="323.8" stroke="#b4b4b4" stroke-width="0.7"/>
<line x1="228.2" y1="322.2" x2="228.2" y2="323.8" stroke="#b4b4b4" stroke-width="0.7"/>
<text x="153.08" y="329.88" font-size="5.5" text-anchor="middle" fill="#444444">10</text>
<text x="166.85" y="329.88" font-size="5.5" text-anchor="middle" fill="#444444">20</text>
<text x="180.62" y="329.88" font-size="5.5" text-anchor="middle" fill="#444444">30</text>
<text x="194.38" y="329.88" font-size="5.5" text-anchor="middle" fill="#444444">40</text>
<text x="208.15" y="329.88" font-size="5.5" text-anchor="middle" fill="#444444">50</text>
<text x="221.92" y="329.88" font-size="5.5" text-anchor="middle" fill="#444444">57</text>
<rect x="149.72" y="372.71" width="3.8" height="14.29" fill="#1b8fd8"/>
<line x1="151.62" y1="372.71" x2="151.62" y2="358.39" stroke="#9c9c9c" stroke-width="0.85"/>
<line x1="150.12" y1="358.39" x2="153.12" y2="358.39" stroke="#6e6e6e" stroke-width="0.8"/>
<rect x="154.52" y="372.71" width="3.8" height="14.29" fill="#fd7b22"/>
<line x1="156.42" y1="372.71" x2="156.42" y2="354.6" stroke="#9c9c9c" stroke-width="0.85"/>
<line x1="154.92" y1="354.6" x2="157.92" y2="354.6" stroke="#6e6e6e" stroke-width="0.8"/>
<rect x="166.56" y="373.89" width="3.8" height="13.11" fill="#1b8fd8"/>
<line x1="168.46" y1="373.89" x2="168.46" y2="359.51" stroke="#9c9c9c" stroke-width="0.85"/>
<line x1="166.96" y1="359.51" x2="169.96" y2="359.51" stroke="#6e6e6e" stroke-width="0.8"/>
<rect x="171.36" y="378.98" width="3.8" height="8.02" fill="#fd7b22"/>
<line x1="173.26" y1="378.98" x2="173.26" y2="363.2" stroke="#9c9c9c" stroke-width="0.85"/>
<line x1="171.76" y1="363.2" x2="174.76" y2="363.2" stroke="#6e6e6e" stroke-width="0.8"/>
<rect x="183.4" y="377.49" width="3.8" height="9.51" fill="#1b8fd8"/>
<line x1="185.3" y1="377.49" x2="185.3" y2="367.89" stroke="#9c9c9c" stroke-width="0.85"/>
<line x1="183.8" y1="367.89" x2="186.8" y2="367.89" stroke="#6e6e6e" stroke-width="0.8"/>
<rect x="188.2" y="378.61" width="3.8" height="8.39" fill="#fd7b22"/>
<line x1="190.1" y1="378.61" x2="190.1" y2="364.69" stroke="#9c9c9c" stroke-width="0.85"/>
<line x1="188.6" y1="364.69" x2="191.6" y2="364.69" stroke="#6e6e6e" stroke-width="0.8"/>
<rect x="200.24" y="369.51" width="3.8" height="17.49" fill="#1b8fd8"/>
<line x1="202.14" y1="369.51" x2="202.14" y2="356.49" stroke="#9c9c9c" stroke-width="0.85"/>
<line x1="200.64" y1="356.49" x2="203.64" y2="356.49" stroke="#6e6e6e" stroke-width="0.8"/>
<rect x="205.04" y="378.98" width="3.8" height="8.02" fill="#fd7b22"/>
<line x1="206.94" y1="378.98" x2="206.94" y2="366.19" stroke="#9c9c9c" stroke-width="0.85"/>
<line x1="205.44" y1="366.19" x2="208.44" y2="366.19" stroke="#6e6e6e" stroke-width="0.8"/>
<rect x="217.08" y="384.7" width="3.8" height="2.3" fill="#1b8fd8"/>
<rect x="221.88" y="378.61" width="3.8" height="8.39" fill="#fd7b22"/>
<line x1="223.78" y1="378.61" x2="223.78" y2="365.32" stroke="#9c9c9c" stroke-width="0.85"/>
<line x1="222.28" y1="365.32" x2="225.28" y2="365.32" stroke="#6e6e6e" stroke-width="0.8"/>
<line x1="145.6" y1="340.4" x2="145.6" y2="387" stroke="#666666" stroke-width="0.9"/>
<line x1="145.6" y1="387" x2="229.8" y2="387" stroke="#b4b4b4" stroke-width="1"/>
<line x1="144" y1="387" x2="145.6" y2="387" stroke="#666666" stroke-width="0.7"/>
<text x="141.4" y="388.5" font-size="5.0" text-anchor="end" fill="#444444">0</text>
<line x1="144" y1="377.68" x2="145.6" y2="377.68" stroke="#666666" stroke-width="0.7"/>
<text x="141.4" y="379.18" font-size="5.0" text-anchor="end" fill="#444444">300</text>
<line x1="144" y1="368.36" x2="145.6" y2="368.36" stroke="#666666" stroke-width="0.7"/>
<text x="141.4" y="369.86" font-size="5.0" text-anchor="end" fill="#444444">600</text>
<line x1="144" y1="359.04" x2="145.6" y2="359.04" stroke="#666666" stroke-width="0.7"/>
<text x="141.4" y="360.54" font-size="5.0" text-anchor="end" fill="#444444">900</text>
<line x1="144" y1="349.72" x2="145.6" y2="349.72" stroke="#666666" stroke-width="0.7"/>
<text x="141.4" y="351.22" font-size="5.0" text-anchor="end" fill="#444444">1200</text>
<line x1="144" y1="340.4" x2="145.6" y2="340.4" stroke="#666666" stroke-width="0.7"/>
<text x="141.4" y="341.9" font-size="5.0" text-anchor="end" fill="#444444">1500</text>
<line x1="145.6" y1="387" x2="145.6" y2="388.6" stroke="#b4b4b4" stroke-width="0.7"/>
<line x1="162.44" y1="387" x2="162.44" y2="388.6" stroke="#b4b4b4" stroke-width="0.7"/>
<line x1="179.28" y1="387" x2="179.28" y2="388.6" stroke="#b4b4b4" stroke-width="0.7"/>
<line x1="196.12" y1="387" x2="196.12" y2="388.6" stroke="#b4b4b4" stroke-width="0.7"/>
<line x1="212.96" y1="387" x2="212.96" y2="388.6" stroke="#b4b4b4" stroke-width="0.7"/>
<line x1="229.8" y1="387" x2="229.8" y2="388.6" stroke="#b4b4b4" stroke-width="0.7"/>
<text x="154.62" y="394.68" font-size="5.5" text-anchor="middle" fill="#444444">10</text>
<text x="171.46" y="394.68" font-size="5.5" text-anchor="middle" fill="#444444">20</text>
<text x="188.3" y="394.68" font-size="5.5" text-anchor="middle" fill="#444444">30</text>
<text x="205.14" y="394.68" font-size="5.5" text-anchor="middle" fill="#444444">40</text>
<text x="221.98" y="394.68" font-size="5.5" text-anchor="middle" fill="#444444">50</text>
<rect x="252.42" y="318.3" width="3.2" height="4" fill="#1b8fd8"/>
<line x1="254.02" y1="318.3" x2="254.02" y2="311.78" stroke="#9c9c9c" stroke-width="0.85"/>
<line x1="252.52" y1="311.78" x2="255.52" y2="311.78" stroke="#6e6e6e" stroke-width="0.8"/>
<rect x="256.32" y="316.98" width="3.2" height="5.32" fill="#fd7b22"/>
<line x1="257.92" y1="316.98" x2="257.92" y2="308.76" stroke="#9c9c9c" stroke-width="0.85"/>
<line x1="256.42" y1="308.76" x2="259.42" y2="308.76" stroke="#6e6e6e" stroke-width="0.8"/>
<rect x="266.35" y="319.29" width="3.2" height="3.01" fill="#1b8fd8"/>
<line x1="267.95" y1="319.29" x2="267.95" y2="313.7" stroke="#9c9c9c" stroke-width="0.85"/>
<line x1="266.45" y1="313.7" x2="269.45" y2="313.7" stroke="#6e6e6e" stroke-width="0.8"/>
<rect x="270.25" y="310.68" width="3.2" height="11.62" fill="#fd7b22"/>
<line x1="271.85" y1="310.68" x2="271.85" y2="295.56" stroke="#9c9c9c" stroke-width="0.85"/>
<line x1="270.35" y1="295.56" x2="273.35" y2="295.56" stroke="#6e6e6e" stroke-width="0.8"/>
<rect x="280.28" y="319.78" width="3.2" height="2.52" fill="#1b8fd8"/>
<line x1="281.88" y1="319.78" x2="281.88" y2="317.92" stroke="#9c9c9c" stroke-width="0.85"/>
<line x1="280.38" y1="317.92" x2="283.38" y2="317.92" stroke="#6e6e6e" stroke-width="0.8"/>
<rect x="284.18" y="307.78" width="3.2" height="14.52" fill="#fd7b22"/>
<line x1="285.78" y1="307.78" x2="285.78" y2="286.73" stroke="#9c9c9c" stroke-width="0.85"/>
<line x1="284.28" y1="286.73" x2="287.28" y2="286.73" stroke="#6e6e6e" stroke-width="0.8"/>
<rect x="294.22" y="320.82" width="3.2" height="1.48" fill="#1b8fd8"/>
<line x1="295.82" y1="320.82" x2="295.82" y2="319.51" stroke="#9c9c9c" stroke-width="0.85"/>
<line x1="294.32" y1="319.51" x2="297.32" y2="319.51" stroke="#6e6e6e" stroke-width="0.8"/>
<rect x="298.12" y="310.24" width="3.2" height="12.06" fill="#fd7b22"/>
<line x1="299.72" y1="310.24" x2="299.72" y2="292.43" stroke="#9c9c9c" stroke-width="0.85"/>
<line x1="298.22" y1="292.43" x2="301.22" y2="292.43" stroke="#6e6e6e" stroke-width="0.8"/>
<rect x="308.15" y="320.82" width="3.2" height="1.48" fill="#1b8fd8"/>
<line x1="309.75" y1="320.82" x2="309.75" y2="319.51" stroke="#9c9c9c" stroke-width="0.85"/>
<line x1="308.25" y1="319.51" x2="311.25" y2="319.51" stroke="#6e6e6e" stroke-width="0.8"/>
<rect x="312.05" y="312.6" width="3.2" height="9.7" fill="#fd7b22"/>
<line x1="313.65" y1="312.6" x2="313.65" y2="296.54" stroke="#9c9c9c" stroke-width="0.85"/>
<line x1="312.15" y1="296.54" x2="315.15" y2="296.54" stroke="#6e6e6e" stroke-width="0.8"/>
<rect x="322.08" y="320.82" width="3.2" height="1.48" fill="#1b8fd8"/>
<rect x="325.98" y="314.46" width="3.2" height="7.84" fill="#fd7b22"/>
<line x1="327.58" y1="314.46" x2="327.58" y2="301.26" stroke="#9c9c9c" stroke-width="0.85"/>
<line x1="326.08" y1="301.26" x2="329.08" y2="301.26" stroke="#6e6e6e" stroke-width="0.8"/>
<line x1="249" y1="281.2" x2="249" y2="322.3" stroke="#666666" stroke-width="0.9"/>
<line x1="249" y1="322.3" x2="332.6" y2="322.3" stroke="#b4b4b4" stroke-width="1"/>
<line x1="247.4" y1="322.3" x2="249" y2="322.3" stroke="#666666" stroke-width="0.7"/>
<text x="244.8" y="323.8" font-size="5.0" text-anchor="end" fill="#444444">0</text>
<line x1="247.4" y1="314.08" x2="249" y2="314.08" stroke="#666666" stroke-width="0.7"/>
<text x="244.8" y="315.58" font-size="5.0" text-anchor="end" fill="#444444">150</text>
<line x1="247.4" y1="305.86" x2="249" y2="305.86" stroke="#666666" stroke-width="0.7"/>
<text x="244.8" y="307.36" font-size="5.0" text-anchor="end" fill="#444444">300</text>
<line x1="247.4" y1="297.64" x2="249" y2="297.64" stroke="#666666" stroke-width="0.7"/>
<text x="244.8" y="299.14" font-size="5.0" text-anchor="end" fill="#444444">450</text>
<line x1="247.4" y1="289.42" x2="249" y2="289.42" stroke="#666666" stroke-width="0.7"/>
<text x="244.8" y="290.92" font-size="5.0" text-anchor="end" fill="#444444">600</text>
<line x1="247.4" y1="281.2" x2="249" y2="281.2" stroke="#666666" stroke-width="0.7"/>
<text x="244.8" y="282.7" font-size="5.0" text-anchor="end" fill="#444444">750</text>
<line x1="249" y1="322.3" x2="249" y2="323.9" stroke="#b4b4b4" stroke-width="0.7"/>
<line x1="262.93" y1="322.3" x2="262.93" y2="323.9" stroke="#b4b4b4" stroke-width="0.7"/>
<line x1="276.87" y1="322.3" x2="276.87" y2="323.9" stroke="#b4b4b4" stroke-width="0.7"/>
<line x1="290.8" y1="322.3" x2="290.8" y2="323.9" stroke="#b4b4b4" stroke-width="0.7"/>
<line x1="304.73" y1="322.3" x2="304.73" y2="323.9" stroke="#b4b4b4" stroke-width="0.7"/>
<line x1="318.67" y1="322.3" x2="318.67" y2="323.9" stroke="#b4b4b4" stroke-width="0.7"/>
<line x1="332.6" y1="322.3" x2="332.6" y2="323.9" stroke="#b4b4b4" stroke-width="0.7"/>
<text x="256.57" y="329.98" font-size="5.5" text-anchor="middle" fill="#444444">10</text>
<text x="270.5" y="329.98" font-size="5.5" text-anchor="middle" fill="#444444">20</text>
<text x="284.43" y="329.98" font-size="5.5" text-anchor="middle" fill="#444444">30</text>
<text x="298.37" y="329.98" font-size="5.5" text-anchor="middle" fill="#444444">40</text>
<text x="312.3" y="329.98" font-size="5.5" text-anchor="middle" fill="#444444">50</text>
<text x="326.23" y="329.98" font-size="5.5" text-anchor="middle" fill="#444444">57</text>
<rect x="254.76" y="376.77" width="3.8" height="10.53" fill="#1b8fd8"/>
<line x1="256.66" y1="376.77" x2="256.66" y2="368.09" stroke="#9c9c9c" stroke-width="0.85"/>
<line x1="255.16" y1="368.09" x2="258.16" y2="368.09" stroke="#6e6e6e" stroke-width="0.8"/>
<rect x="259.56" y="372.72" width="3.8" height="14.58" fill="#fd7b22"/>
<line x1="261.46" y1="372.72" x2="261.46" y2="360.45" stroke="#9c9c9c" stroke-width="0.85"/>
<line x1="259.96" y1="360.45" x2="262.96" y2="360.45" stroke="#6e6e6e" stroke-width="0.8"/>
<rect x="271.68" y="375.73" width="3.8" height="11.57" fill="#1b8fd8"/>
<line x1="273.58" y1="375.73" x2="273.58" y2="366.58" stroke="#9c9c9c" stroke-width="0.85"/>
<line x1="272.08" y1="366.58" x2="275.08" y2="366.58" stroke="#6e6e6e" stroke-width="0.8"/>
<rect x="276.48" y="366.01" width="3.8" height="21.29" fill="#fd7b22"/>
<line x1="278.38" y1="366.01" x2="278.38" y2="347.83" stroke="#9c9c9c" stroke-width="0.85"/>
<line x1="276.88" y1="347.83" x2="279.88" y2="347.83" stroke="#6e6e6e" stroke-width="0.8"/>
<rect x="288.6" y="376.54" width="3.8" height="10.76" fill="#1b8fd8"/>
<line x1="290.5" y1="376.54" x2="290.5" y2="368.09" stroke="#9c9c9c" stroke-width="0.85"/>
<line x1="289" y1="368.09" x2="292" y2="368.09" stroke="#6e6e6e" stroke-width="0.8"/>
<rect x="293.4" y="367.51" width="3.8" height="19.79" fill="#fd7b22"/>
<line x1="295.3" y1="367.51" x2="295.3" y2="346.79" stroke="#9c9c9c" stroke-width="0.85"/>
<line x1="293.8" y1="346.79" x2="296.8" y2="346.79" stroke="#6e6e6e" stroke-width="0.8"/>
<rect x="305.52" y="369.82" width="3.8" height="17.48" fill="#1b8fd8"/>
<line x1="307.42" y1="369.82" x2="307.42" y2="361.78" stroke="#9c9c9c" stroke-width="0.85"/>
<line x1="305.92" y1="361.78" x2="308.92" y2="361.78" stroke="#6e6e6e" stroke-width="0.8"/>
<rect x="310.32" y="373.35" width="3.8" height="13.95" fill="#fd7b22"/>
<line x1="312.22" y1="373.35" x2="312.22" y2="351.83" stroke="#9c9c9c" stroke-width="0.85"/>
<line x1="310.72" y1="351.83" x2="313.72" y2="351.83" stroke="#6e6e6e" stroke-width="0.8"/>
<rect x="322.44" y="386.66" width="3.8" height="0.64" fill="#1b8fd8"/>
<rect x="327.24" y="376.13" width="3.8" height="11.17" fill="#fd7b22"/>
<line x1="329.14" y1="376.13" x2="329.14" y2="357.56" stroke="#9c9c9c" stroke-width="0.85"/>
<line x1="327.64" y1="357.56" x2="330.64" y2="357.56" stroke="#6e6e6e" stroke-width="0.8"/>
<line x1="250.6" y1="343.9" x2="250.6" y2="387.3" stroke="#666666" stroke-width="0.9"/>
<line x1="250.6" y1="387.3" x2="335.2" y2="387.3" stroke="#b4b4b4" stroke-width="1"/>
<line x1="249" y1="387.3" x2="250.6" y2="387.3" stroke="#666666" stroke-width="0.7"/>
<text x="246.4" y="388.8" font-size="5.0" text-anchor="end" fill="#444444">0</text>
<line x1="249" y1="378.62" x2="250.6" y2="378.62" stroke="#666666" stroke-width="0.7"/>
<text x="246.4" y="380.12" font-size="5.0" text-anchor="end" fill="#444444">150</text>
<line x1="249" y1="369.94" x2="250.6" y2="369.94" stroke="#666666" stroke-width="0.7"/>
<text x="246.4" y="371.44" font-size="5.0" text-anchor="end" fill="#444444">300</text>
<line x1="249" y1="361.26" x2="250.6" y2="361.26" stroke="#666666" stroke-width="0.7"/>
<text x="246.4" y="362.76" font-size="5.0" text-anchor="end" fill="#444444">450</text>
<line x1="249" y1="352.58" x2="250.6" y2="352.58" stroke="#666666" stroke-width="0.7"/>
<text x="246.4" y="354.08" font-size="5.0" text-anchor="end" fill="#444444">600</text>
<line x1="249" y1="343.9" x2="250.6" y2="343.9" stroke="#666666" stroke-width="0.7"/>
<text x="246.4" y="345.4" font-size="5.0" text-anchor="end" fill="#444444">750</text>
<line x1="250.6" y1="387.3" x2="250.6" y2="388.9" stroke="#b4b4b4" stroke-width="0.7"/>
<line x1="267.52" y1="387.3" x2="267.52" y2="388.9" stroke="#b4b4b4" stroke-width="0.7"/>
<line x1="284.44" y1="387.3" x2="284.44" y2="388.9" stroke="#b4b4b4" stroke-width="0.7"/>
<line x1="301.36" y1="387.3" x2="301.36" y2="388.9" stroke="#b4b4b4" stroke-width="0.7"/>
<line x1="318.28" y1="387.3" x2="318.28" y2="388.9" stroke="#b4b4b4" stroke-width="0.7"/>
<line x1="335.2" y1="387.3" x2="335.2" y2="388.9" stroke="#b4b4b4" stroke-width="0.7"/>
<text x="259.66" y="394.98" font-size="5.5" text-anchor="middle" fill="#444444">10</text>
<text x="276.58" y="394.98" font-size="5.5" text-anchor="middle" fill="#444444">20</text>
<text x="293.5" y="394.98" font-size="5.5" text-anchor="middle" fill="#444444">30</text>
<text x="310.42" y="394.98" font-size="5.5" text-anchor="middle" fill="#444444">40</text>
<text x="327.34" y="394.98" font-size="5.5" text-anchor="middle" fill="#444444">50</text>
<rect x="357.19" y="319.71" width="3.2" height="2.59" fill="#1b8fd8"/>
<line x1="358.79" y1="319.71" x2="358.79" y2="317.22" stroke="#9c9c9c" stroke-width="0.85"/>
<line x1="357.29" y1="317.22" x2="360.29" y2="317.22" stroke="#6e6e6e" stroke-width="0.8"/>
<rect x="361.09" y="319.06" width="3.2" height="3.24" fill="#fd7b22"/>
<line x1="362.69" y1="319.06" x2="362.69" y2="315.55" stroke="#9c9c9c" stroke-width="0.85"/>
<line x1="361.19" y1="315.55" x2="364.19" y2="315.55" stroke="#6e6e6e" stroke-width="0.8"/>
<rect x="370.87" y="320.36" width="3.2" height="1.94" fill="#1b8fd8"/>
<line x1="372.47" y1="320.36" x2="372.47" y2="318.05" stroke="#9c9c9c" stroke-width="0.85"/>
<line x1="370.97" y1="318.05" x2="373.97" y2="318.05" stroke="#6e6e6e" stroke-width="0.8"/>
<rect x="374.77" y="318.51" width="3.2" height="3.79" fill="#fd7b22"/>
<line x1="376.38" y1="318.51" x2="376.38" y2="312.78" stroke="#9c9c9c" stroke-width="0.85"/>
<line x1="374.88" y1="312.78" x2="377.88" y2="312.78" stroke="#6e6e6e" stroke-width="0.8"/>
<rect x="384.56" y="321.84" width="3.2" height="0.46" fill="#1b8fd8"/>
<rect x="388.46" y="318.05" width="3.2" height="4.25" fill="#fd7b22"/>
<line x1="390.06" y1="318.05" x2="390.06" y2="311.39" stroke="#9c9c9c" stroke-width="0.85"/>
<line x1="388.56" y1="311.39" x2="391.56" y2="311.39" stroke="#6e6e6e" stroke-width="0.8"/>
<rect x="398.24" y="321.01" width="3.2" height="1.29" fill="#1b8fd8"/>
<line x1="399.84" y1="321.01" x2="399.84" y2="318.51" stroke="#9c9c9c" stroke-width="0.85"/>
<line x1="398.34" y1="318.51" x2="401.34" y2="318.51" stroke="#6e6e6e" stroke-width="0.8"/>
<rect x="402.14" y="312.32" width="3.2" height="9.98" fill="#fd7b22"/>
<line x1="403.74" y1="312.32" x2="403.74" y2="301.41" stroke="#9c9c9c" stroke-width="0.85"/>
<line x1="402.24" y1="301.41" x2="405.24" y2="301.41" stroke="#6e6e6e" stroke-width="0.8"/>
<rect x="411.93" y="321.01" width="3.2" height="1.29" fill="#1b8fd8"/>
<line x1="413.53" y1="321.01" x2="413.53" y2="318.51" stroke="#9c9c9c" stroke-width="0.85"/>
<line x1="412.03" y1="318.51" x2="415.03" y2="318.51" stroke="#6e6e6e" stroke-width="0.8"/>
<rect x="415.83" y="307.97" width="3.2" height="14.33" fill="#fd7b22"/>
<line x1="417.43" y1="307.97" x2="417.43" y2="291.61" stroke="#9c9c9c" stroke-width="0.85"/>
<line x1="415.93" y1="291.61" x2="418.93" y2="291.61" stroke="#6e6e6e" stroke-width="0.8"/>
<rect x="425.61" y="319.06" width="3.2" height="3.24" fill="#1b8fd8"/>
<line x1="427.21" y1="319.06" x2="427.21" y2="316.57" stroke="#9c9c9c" stroke-width="0.85"/>
<line x1="425.71" y1="316.57" x2="428.71" y2="316.57" stroke="#6e6e6e" stroke-width="0.8"/>
<rect x="429.51" y="305.66" width="3.2" height="16.64" fill="#fd7b22"/>
<line x1="431.11" y1="305.66" x2="431.11" y2="284.95" stroke="#9c9c9c" stroke-width="0.85"/>
<line x1="429.61" y1="284.95" x2="432.61" y2="284.95" stroke="#6e6e6e" stroke-width="0.8"/>
<line x1="353.9" y1="280.7" x2="353.9" y2="322.3" stroke="#666666" stroke-width="0.9"/>
<line x1="353.9" y1="322.3" x2="436" y2="322.3" stroke="#b4b4b4" stroke-width="1"/>
<line x1="352.3" y1="322.3" x2="353.9" y2="322.3" stroke="#666666" stroke-width="0.7"/>
<text x="349.7" y="323.8" font-size="5.0" text-anchor="end" fill="#444444">0</text>
<line x1="352.3" y1="308.43" x2="353.9" y2="308.43" stroke="#666666" stroke-width="0.7"/>
<text x="349.7" y="309.93" font-size="5.0" text-anchor="end" fill="#444444">150</text>
<line x1="352.3" y1="294.57" x2="353.9" y2="294.57" stroke="#666666" stroke-width="0.7"/>
<text x="349.7" y="296.07" font-size="5.0" text-anchor="end" fill="#444444">300</text>
<line x1="352.3" y1="280.7" x2="353.9" y2="280.7" stroke="#666666" stroke-width="0.7"/>
<text x="349.7" y="282.2" font-size="5.0" text-anchor="end" fill="#444444">450</text>
<line x1="353.9" y1="322.3" x2="353.9" y2="323.9" stroke="#b4b4b4" stroke-width="0.7"/>
<line x1="367.58" y1="322.3" x2="367.58" y2="323.9" stroke="#b4b4b4" stroke-width="0.7"/>
<line x1="381.27" y1="322.3" x2="381.27" y2="323.9" stroke="#b4b4b4" stroke-width="0.7"/>
<line x1="394.95" y1="322.3" x2="394.95" y2="323.9" stroke="#b4b4b4" stroke-width="0.7"/>
<line x1="408.63" y1="322.3" x2="408.63" y2="323.9" stroke="#b4b4b4" stroke-width="0.7"/>
<line x1="422.32" y1="322.3" x2="422.32" y2="323.9" stroke="#b4b4b4" stroke-width="0.7"/>
<line x1="436" y1="322.3" x2="436" y2="323.9" stroke="#b4b4b4" stroke-width="0.7"/>
<text x="361.34" y="329.98" font-size="5.5" text-anchor="middle" fill="#444444">10</text>
<text x="375.02" y="329.98" font-size="5.5" text-anchor="middle" fill="#444444">20</text>
<text x="388.71" y="329.98" font-size="5.5" text-anchor="middle" fill="#444444">30</text>
<text x="402.39" y="329.98" font-size="5.5" text-anchor="middle" fill="#444444">40</text>
<text x="416.08" y="329.98" font-size="5.5" text-anchor="middle" fill="#444444">50</text>
<text x="429.76" y="329.98" font-size="5.5" text-anchor="middle" fill="#444444">57</text>
<rect x="360.2" y="384.12" width="4.6" height="2.68" fill="#1b8fd8"/>
<line x1="362.5" y1="384.12" x2="362.5" y2="381.45" stroke="#9c9c9c" stroke-width="0.85"/>
<line x1="361" y1="381.45" x2="364" y2="381.45" stroke="#6e6e6e" stroke-width="0.8"/>
<rect x="366" y="383.51" width="4.6" height="3.29" fill="#fd7b22"/>
<line x1="368.3" y1="383.51" x2="368.3" y2="379.39" stroke="#9c9c9c" stroke-width="0.85"/>
<line x1="366.8" y1="379.39" x2="369.8" y2="379.39" stroke="#6e6e6e" stroke-width="0.8"/>
<rect x="381" y="383.71" width="4.6" height="3.09" fill="#1b8fd8"/>
<line x1="383.3" y1="383.71" x2="383.3" y2="380.63" stroke="#9c9c9c" stroke-width="0.85"/>
<line x1="381.8" y1="380.63" x2="384.8" y2="380.63" stroke="#6e6e6e" stroke-width="0.8"/>
<rect x="386.8" y="380.22" width="4.6" height="6.58" fill="#fd7b22"/>
<line x1="389.1" y1="380.22" x2="389.1" y2="374.25" stroke="#9c9c9c" stroke-width="0.85"/>
<line x1="387.6" y1="374.25" x2="390.6" y2="374.25" stroke="#6e6e6e" stroke-width="0.8"/>
<rect x="401.8" y="377.75" width="4.6" height="9.05" fill="#1b8fd8"/>
<line x1="404.1" y1="377.75" x2="404.1" y2="371.37" stroke="#9c9c9c" stroke-width="0.85"/>
<line x1="402.6" y1="371.37" x2="405.6" y2="371.37" stroke="#6e6e6e" stroke-width="0.8"/>
<rect x="407.6" y="373.73" width="4.6" height="13.07" fill="#fd7b22"/>
<line x1="409.9" y1="373.73" x2="409.9" y2="362.11" stroke="#9c9c9c" stroke-width="0.85"/>
<line x1="408.4" y1="362.11" x2="411.4" y2="362.11" stroke="#6e6e6e" stroke-width="0.8"/>
<rect x="422.6" y="385.87" width="4.6" height="0.93" fill="#1b8fd8"/>
<rect x="428.4" y="364.99" width="4.6" height="21.81" fill="#fd7b22"/>
<line x1="430.7" y1="364.99" x2="430.7" y2="346.88" stroke="#9c9c9c" stroke-width="0.85"/>
<line x1="429.2" y1="346.88" x2="432.2" y2="346.88" stroke="#6e6e6e" stroke-width="0.8"/>
<line x1="355" y1="340.5" x2="355" y2="386.8" stroke="#666666" stroke-width="0.9"/>
<line x1="355" y1="386.8" x2="438.2" y2="386.8" stroke="#b4b4b4" stroke-width="1"/>
<line x1="353.4" y1="386.8" x2="355" y2="386.8" stroke="#666666" stroke-width="0.7"/>
<text x="350.8" y="388.3" font-size="5.0" text-anchor="end" fill="#444444">0</text>
<line x1="353.4" y1="371.37" x2="355" y2="371.37" stroke="#666666" stroke-width="0.7"/>
<text x="350.8" y="372.87" font-size="5.0" text-anchor="end" fill="#444444">150</text>
<line x1="353.4" y1="355.93" x2="355" y2="355.93" stroke="#666666" stroke-width="0.7"/>
<text x="350.8" y="357.43" font-size="5.0" text-anchor="end" fill="#444444">300</text>
<line x1="353.4" y1="340.5" x2="355" y2="340.5" stroke="#666666" stroke-width="0.7"/>
<text x="350.8" y="342" font-size="5.0" text-anchor="end" fill="#444444">450</text>
<line x1="355" y1="386.8" x2="355" y2="388.4" stroke="#b4b4b4" stroke-width="0.7"/>
<line x1="375.8" y1="386.8" x2="375.8" y2="388.4" stroke="#b4b4b4" stroke-width="0.7"/>
<line x1="396.6" y1="386.8" x2="396.6" y2="388.4" stroke="#b4b4b4" stroke-width="0.7"/>
<line x1="417.4" y1="386.8" x2="417.4" y2="388.4" stroke="#b4b4b4" stroke-width="0.7"/>
<line x1="438.2" y1="386.8" x2="438.2" y2="388.4" stroke="#b4b4b4" stroke-width="0.7"/>
<text x="366" y="394.48" font-size="5.5" text-anchor="middle" fill="#444444">10</text>
<text x="386.8" y="394.48" font-size="5.5" text-anchor="middle" fill="#444444">20</text>
<text x="407.6" y="394.48" font-size="5.5" text-anchor="middle" fill="#444444">30</text>
<text x="428.4" y="394.48" font-size="5.5" text-anchor="middle" fill="#444444">40</text>
<rect x="459.01" y="321.1" width="4.4" height="1.5" fill="#1b8fd8"/>
<rect x="464.61" y="316.89" width="4.4" height="5.71" fill="#fd7b22"/>
<line x1="466.81" y1="316.89" x2="466.81" y2="314" stroke="#9c9c9c" stroke-width="0.85"/>
<line x1="465.31" y1="314" x2="468.31" y2="314" stroke="#6e6e6e" stroke-width="0.8"/>
<rect x="478.04" y="321.1" width="4.4" height="1.5" fill="#1b8fd8"/>
<rect x="483.64" y="316.89" width="4.4" height="5.71" fill="#fd7b22"/>
<line x1="485.84" y1="316.89" x2="485.84" y2="314.6" stroke="#9c9c9c" stroke-width="0.85"/>
<line x1="484.34" y1="314.6" x2="487.34" y2="314.6" stroke="#6e6e6e" stroke-width="0.8"/>
<rect x="497.06" y="321.1" width="4.4" height="1.5" fill="#1b8fd8"/>
<rect x="502.66" y="301.13" width="4.4" height="21.47" fill="#fd7b22"/>
<line x1="504.86" y1="301.13" x2="504.86" y2="283.81" stroke="#9c9c9c" stroke-width="0.85"/>
<line x1="503.36" y1="283.81" x2="506.36" y2="283.81" stroke="#6e6e6e" stroke-width="0.8"/>
<rect x="516.09" y="310.15" width="4.4" height="12.45" fill="#1b8fd8"/>
<rect x="521.69" y="303.05" width="4.4" height="19.55" fill="#fd7b22"/>
<line x1="523.89" y1="303.05" x2="523.89" y2="286.63" stroke="#9c9c9c" stroke-width="0.85"/>
<line x1="522.39" y1="286.63" x2="525.39" y2="286.63" stroke="#6e6e6e" stroke-width="0.8"/>
<line x1="454.5" y1="280.5" x2="454.5" y2="322.6" stroke="#666666" stroke-width="0.9"/>
<line x1="454.5" y1="322.6" x2="530.6" y2="322.6" stroke="#b4b4b4" stroke-width="1"/>
<line x1="452.9" y1="322.6" x2="454.5" y2="322.6" stroke="#666666" stroke-width="0.7"/>
<text x="450.3" y="324.1" font-size="5.0" text-anchor="end" fill="#444444">0</text>
<line x1="452.9" y1="316.59" x2="454.5" y2="316.59" stroke="#666666" stroke-width="0.7"/>
<text x="450.3" y="318.09" font-size="5.0" text-anchor="end" fill="#444444">10</text>
<line x1="452.9" y1="310.57" x2="454.5" y2="310.57" stroke="#666666" stroke-width="0.7"/>
<text x="450.3" y="312.07" font-size="5.0" text-anchor="end" fill="#444444">20</text>
<line x1="452.9" y1="304.56" x2="454.5" y2="304.56" stroke="#666666" stroke-width="0.7"/>
<text x="450.3" y="306.06" font-size="5.0" text-anchor="end" fill="#444444">30</text>
<line x1="452.9" y1="298.54" x2="454.5" y2="298.54" stroke="#666666" stroke-width="0.7"/>
<text x="450.3" y="300.04" font-size="5.0" text-anchor="end" fill="#444444">40</text>
<line x1="452.9" y1="292.53" x2="454.5" y2="292.53" stroke="#666666" stroke-width="0.7"/>
<text x="450.3" y="294.03" font-size="5.0" text-anchor="end" fill="#444444">50</text>
<line x1="452.9" y1="286.51" x2="454.5" y2="286.51" stroke="#666666" stroke-width="0.7"/>
<text x="450.3" y="288.01" font-size="5.0" text-anchor="end" fill="#444444">60</text>
<line x1="452.9" y1="280.5" x2="454.5" y2="280.5" stroke="#666666" stroke-width="0.7"/>
<text x="450.3" y="282" font-size="5.0" text-anchor="end" fill="#444444">70</text>
<line x1="454.5" y1="322.6" x2="454.5" y2="324.2" stroke="#b4b4b4" stroke-width="0.7"/>
<line x1="473.52" y1="322.6" x2="473.52" y2="324.2" stroke="#b4b4b4" stroke-width="0.7"/>
<line x1="492.55" y1="322.6" x2="492.55" y2="324.2" stroke="#b4b4b4" stroke-width="0.7"/>
<line x1="511.58" y1="322.6" x2="511.58" y2="324.2" stroke="#b4b4b4" stroke-width="0.7"/>
<line x1="530.6" y1="322.6" x2="530.6" y2="324.2" stroke="#b4b4b4" stroke-width="0.7"/>
<text x="464.61" y="330.28" font-size="5.5" text-anchor="middle" fill="#444444">20</text>
<text x="483.64" y="330.28" font-size="5.5" text-anchor="middle" fill="#444444">30</text>
<text x="502.66" y="330.28" font-size="5.5" text-anchor="middle" fill="#444444">50</text>
<text x="521.69" y="330.28" font-size="5.5" text-anchor="middle" fill="#444444">57</text>
<rect x="481.1" y="379.31" width="10.5" height="7.89" fill="#1b8fd8"/>
<line x1="486.35" y1="379.31" x2="486.35" y2="378.92" stroke="#9c9c9c" stroke-width="0.85"/>
<line x1="484.85" y1="378.92" x2="487.85" y2="378.92" stroke="#6e6e6e" stroke-width="0.8"/>
<rect x="494.2" y="379.31" width="10.5" height="7.89" fill="#fd7b22"/>
<line x1="499.45" y1="379.31" x2="499.45" y2="378.92" stroke="#9c9c9c" stroke-width="0.85"/>
<line x1="497.95" y1="378.92" x2="500.95" y2="378.92" stroke="#6e6e6e" stroke-width="0.8"/>
<line x1="454.6" y1="341.2" x2="454.6" y2="387.2" stroke="#666666" stroke-width="0.9"/>
<line x1="454.6" y1="387.2" x2="531.2" y2="387.2" stroke="#b4b4b4" stroke-width="1"/>
<line x1="453" y1="387.2" x2="454.6" y2="387.2" stroke="#666666" stroke-width="0.7"/>
<text x="450.4" y="388.7" font-size="5.0" text-anchor="end" fill="#444444">0</text>
<line x1="453" y1="380.63" x2="454.6" y2="380.63" stroke="#666666" stroke-width="0.7"/>
<text x="450.4" y="382.13" font-size="5.0" text-anchor="end" fill="#444444">10</text>
<line x1="453" y1="374.06" x2="454.6" y2="374.06" stroke="#666666" stroke-width="0.7"/>
<text x="450.4" y="375.56" font-size="5.0" text-anchor="end" fill="#444444">20</text>
<line x1="453" y1="367.49" x2="454.6" y2="367.49" stroke="#666666" stroke-width="0.7"/>
<text x="450.4" y="368.99" font-size="5.0" text-anchor="end" fill="#444444">30</text>
<line x1="453" y1="360.91" x2="454.6" y2="360.91" stroke="#666666" stroke-width="0.7"/>
<text x="450.4" y="362.41" font-size="5.0" text-anchor="end" fill="#444444">40</text>
<line x1="453" y1="354.34" x2="454.6" y2="354.34" stroke="#666666" stroke-width="0.7"/>
<text x="450.4" y="355.84" font-size="5.0" text-anchor="end" fill="#444444">50</text>
<line x1="453" y1="347.77" x2="454.6" y2="347.77" stroke="#666666" stroke-width="0.7"/>
<text x="450.4" y="349.27" font-size="5.0" text-anchor="end" fill="#444444">60</text>
<line x1="453" y1="341.2" x2="454.6" y2="341.2" stroke="#666666" stroke-width="0.7"/>
<text x="450.4" y="342.7" font-size="5.0" text-anchor="end" fill="#444444">70</text>
<line x1="454.6" y1="387.2" x2="454.6" y2="388.8" stroke="#b4b4b4" stroke-width="0.7"/>
<line x1="531.2" y1="387.2" x2="531.2" y2="388.8" stroke="#b4b4b4" stroke-width="0.7"/>
<text x="493.5" y="394.88" font-size="5.5" text-anchor="middle" fill="#444444">10</text>
<text x="26.9" y="30.5" font-size="8.7" text-anchor="start" font-weight="bold" font-style="normal" fill="#151515" >Black Spruce (a)</text>
<text x="28" y="158.8" font-size="8.6" text-anchor="start" font-weight="bold" font-style="normal" fill="#151515" >Balsam Fir (b)</text>
<text x="24.4" y="278" font-size="8.6" text-anchor="start" font-weight="bold" font-style="normal" fill="#151515" >Jack Pine (c)</text>
<text x="60" y="21" font-size="7.3" text-anchor="start" font-weight="normal" font-style="normal" fill="#303030" >Dbh class: 5cm</text>
<text x="159" y="21.3" font-size="7.3" text-anchor="start" font-weight="normal" font-style="normal" fill="#303030" >Dbh class: 15cm</text>
<text x="261.1" y="21.5" font-size="7.3" text-anchor="start" font-weight="normal" font-style="normal" fill="#303030" >Dbh class: 25cm</text>
<text x="362.7" y="21.7" font-size="7.3" text-anchor="start" font-weight="normal" font-style="normal" fill="#303030" >Dbh class: 35cm</text>
<text x="461" y="21.6" font-size="7.3" text-anchor="start" font-weight="normal" font-style="normal" fill="#303030" >Dbh class: 45cm</text>
<text x="463.9" y="278.9" font-size="7.3" text-anchor="start" font-weight="normal" font-style="normal" fill="#303030" >Dbh class: 45cm</text>
<text x="453.9" y="93" font-size="7.3" text-anchor="start" font-weight="normal" font-style="normal" fill="#303030" >Dbh class: 45 &amp; 55 cm</text>
<text x="265.9" y="32.9" font-size="8.1" text-anchor="start" font-weight="normal" font-style="italic" fill="#303030" >Ecoregion 3E</text>
<text x="263.6" y="93.9" font-size="8.1" text-anchor="start" font-weight="normal" font-style="italic" fill="#303030" >Ecoregion 3W</text>
<text x="260.3" y="158.1" font-size="8.1" text-anchor="start" font-weight="normal" font-style="italic" fill="#303030" >Ecoregion 3E</text>
<text x="261.6" y="220.8" font-size="8.1" text-anchor="start" font-weight="normal" font-style="italic" fill="#303030" >Ecoregion 3W</text>
<text x="264.5" y="277" font-size="8.1" text-anchor="start" font-weight="normal" font-style="italic" fill="#303030" >Ecoregion 3E</text>
<text x="265" y="339.9" font-size="8.1" text-anchor="start" font-weight="normal" font-style="italic" fill="#303030" >Ecoregion 3W</text>
<text x="21.4" y="83.2" font-size="7.65" text-anchor="middle" font-weight="normal" font-style="normal" fill="#505050" transform="rotate(-90 21.4 83.2)">Number of trees per ha</text>
<text x="21.4" y="206.9" font-size="7.65" text-anchor="middle" font-weight="normal" font-style="normal" fill="#505050" transform="rotate(-90 21.4 206.9)">Number of trees per ha</text>
<text x="21.4" y="330.9" font-size="7.65" text-anchor="middle" font-weight="normal" font-style="normal" fill="#505050" transform="rotate(-90 21.4 330.9)">Number of trees per ha</text>
<text x="65.8" y="403.2" font-size="8.1" text-anchor="start" font-weight="normal" font-style="normal" fill="#303030" >Year</text>
<text x="172.7" y="403.2" font-size="8.1" text-anchor="start" font-weight="normal" font-style="normal" fill="#303030" >Year</text>
<text x="276.4" y="403.2" font-size="8.1" text-anchor="start" font-weight="normal" font-style="normal" fill="#303030" >Year</text>
<text x="383.8" y="403.2" font-size="8.1" text-anchor="start" font-weight="normal" font-style="normal" fill="#303030" >Year</text>
<text x="486.8" y="403.2" font-size="8.1" text-anchor="start" font-weight="normal" font-style="normal" fill="#303030" >Year</text>
<rect x="461.3" y="201.5" width="4.2" height="4.8" fill="#1b8fd8"/>
<rect x="461.3" y="210.8" width="4.2" height="5.6" fill="#fd7b22"/>
<text x="468.6" y="206.8" font-size="7.6" text-anchor="start" font-weight="normal" font-style="normal" fill="#303030" >Observations</text>
<text x="468.6" y="215.2" font-size="7.6" text-anchor="start" font-weight="normal" font-style="normal" fill="#303030" >Predictions</text>
</g>
</svg>
</body></html>
